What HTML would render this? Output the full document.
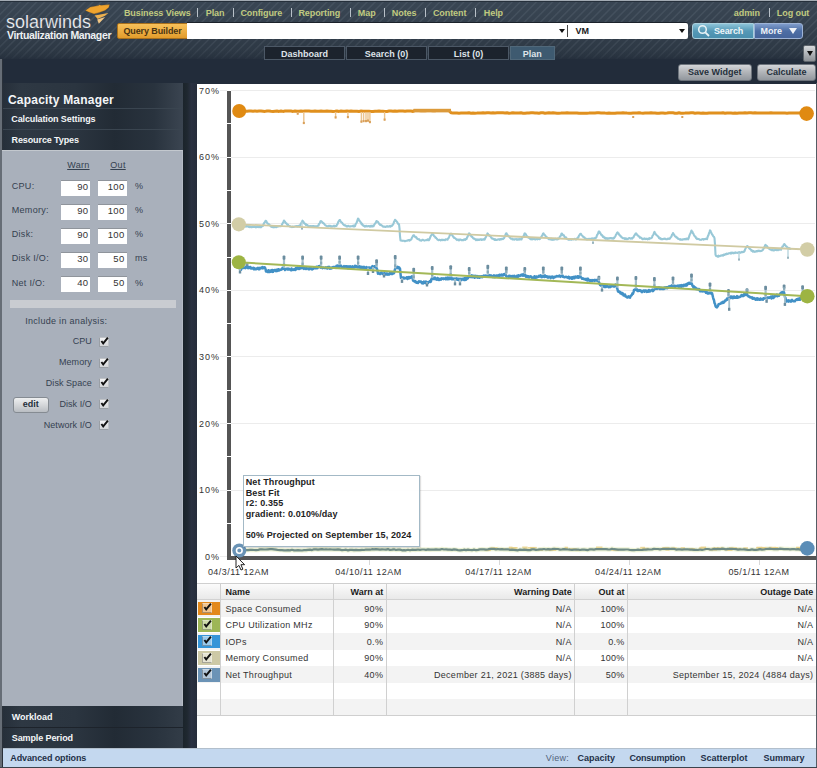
<!DOCTYPE html><html><head><meta charset="utf-8"><style>
*{margin:0;padding:0;box-sizing:border-box}
html,body{width:817px;height:768px;overflow:hidden;background:#222c3a;font-family:"Liberation Sans", sans-serif}
.a{position:absolute}
.t{position:absolute;white-space:nowrap;line-height:1}
.b{font-weight:bold}
.nav{color:#c0ca80;font-size:9px;font-weight:bold;letter-spacing:-0.08px;top:8.7px;margin-left:-0.6px}
.sep{position:absolute;top:8px;width:1px;height:9px;background:#b8c0c8}
.tab{position:absolute;top:46px;height:14px;background:#1c232d;border:1px solid #4c5866;color:#dfe4ea;font-size:9px;font-weight:bold;text-align:center;line-height:14px}
.btn{position:absolute;border-radius:3px;background:linear-gradient(#d3d5d8,#b3b6ba 45%,#92979d);border:1px solid #6d747c;color:#25303c;font-size:9px;font-weight:bold;text-align:center}
.sh{position:absolute;left:3px;width:180px;background:linear-gradient(90deg,#262f3a 0%,#2e3843 10%,#2b3540 40%,#222b35 62%,#29333e 84%,#3b4551 100%);color:#f2f4f6;font-weight:bold;font-size:9px}
.lbl{position:absolute;color:#354150;font-size:9px;letter-spacing:0.3px;white-space:nowrap;line-height:1}
.lbl2{position:absolute;color:#354150;font-size:9px;letter-spacing:0.05px;white-space:nowrap;line-height:1}
.inp{position:absolute;width:29px;height:16px;background:#fff;border-top:1px solid #8f949b;color:#333;font-size:9.5px;text-align:right;padding-right:2px;line-height:12px;letter-spacing:0.3px}
.cb{position:absolute;width:10px;height:10px;background:linear-gradient(#f4f4f5,#d3d5d8);border:1px solid #9a9fa5;border-top-color:#c0c3c7;border-right-color:#c0c3c7}
.ck{position:absolute;left:1px;top:-3px;font-size:11px;font-weight:bold;color:#111;line-height:1}
.cell{position:absolute;font-size:9px;color:#333;letter-spacing:0.3px;white-space:nowrap;line-height:1}
.hcell{position:absolute;font-size:9px;color:#1a1a1a;font-weight:bold;white-space:nowrap;line-height:1}
</style></head><body><div class="a" style="left:0;top:0;width:817px;height:59px;background:repeating-linear-gradient(135deg,#35414e 0px,#35414e 3.3px,#44505d 4.3px,#44505d 4.7px,#35414e 5.7px)"></div>
<div class="a" style="left:0;top:0;width:817px;height:59px;background:linear-gradient(rgba(70,85,100,0.25) 0%,rgba(0,0,0,0) 40%,rgba(20,28,38,0.3) 100%)"></div>
<div class="a" style="left:0;top:50px;width:817px;height:12px;background:linear-gradient(rgba(34,44,58,0) 0%,rgba(34,44,58,0.35) 55%,rgba(34,44,58,0.9) 85%,#222c3a 100%)"></div>
<div class="a" style="left:0;top:0;width:817px;height:1px;background:#a3abb3"></div><div class="a" style="left:0;top:1px;width:817px;height:1px;background:#26303b"></div>
<svg class="a" style="left:84px;top:3px" width="28" height="22" viewBox="84 3 28 22">
<path d="M85.3,10.4 L90.3,7.1 L98.3,5.6 L99.5,4.8 L101,5.3 L109.6,4.6 L108.8,7.5 L105,10.5 L99.5,12.4 L94,13.9 L88.5,12 Z" fill="#f0a42e" stroke="#5a4020" stroke-width="0.3"/>
<path d="M94.6,15.6 L108.4,12.9 L105,15.7 L97.7,19 Z" fill="#edb04f"/>
<path d="M97.2,19.4 L105.2,17 L98.8,23.8 Z" fill="#f1c685"/>
</svg>
<div class="t" style="left:6px;top:13px;font-size:18px;color:#f2f4f6;letter-spacing:0px;-webkit-text-stroke:0.2px #3a4552">solarwinds</div>
<div class="t b" style="left:7px;top:30px;font-size:10.5px;color:#eef1f3;letter-spacing:-0.35px">Virtualization Manager</div>
<div class="t nav" style="left:124.5px">Business Views</div>
<div class="t nav" style="left:206.3px">Plan</div>
<div class="t nav" style="left:241px">Configure</div>
<div class="t nav" style="left:299px">Reporting</div>
<div class="t nav" style="left:358.4px">Map</div>
<div class="t nav" style="left:392.4px">Notes</div>
<div class="t nav" style="left:433.5px">Content</div>
<div class="t nav" style="left:484.4px">Help</div>
<div class="t nav" style="left:734.4px">admin</div>
<div class="t nav" style="left:777.4px">Log out</div>
<div class="sep" style="left:197px"></div>
<div class="sep" style="left:232.5px"></div>
<div class="sep" style="left:290.5px"></div>
<div class="sep" style="left:349.8px"></div>
<div class="sep" style="left:383.5px"></div>
<div class="sep" style="left:424.7px"></div>
<div class="sep" style="left:475.3px"></div>
<div class="sep" style="left:768.5px"></div>
<div class="a" style="left:117px;top:23px;width:71px;height:16px;background:linear-gradient(#f7c15a,#e29c2c);border:1px solid #a8701c;border-radius:2px 0 0 2px"></div>
<div class="t b" style="left:123.4px;top:26.5px;font-size:9px;color:#4a3412;letter-spacing:-0.1px">Query Builder</div>
<div class="a" style="left:187px;top:23px;width:501px;height:16px;background:#fff;border-radius:0 2px 2px 0;box-shadow:0 -1px 0 #1b222b"></div>
<div class="a" style="left:567px;top:25px;width:1px;height:12px;background:#444"></div>
<svg class="a" style="left:558.5px;top:28.5px" width="6" height="4"><polygon points="0,0 6,0 3,4" fill="#111"/></svg>
<svg class="a" style="left:678.5px;top:28.5px" width="6" height="4"><polygon points="0,0 6,0 3,4" fill="#111"/></svg>
<div class="t b" style="left:575.4px;top:26.5px;font-size:9px;color:#1a1a1a">VM</div>
<div class="a" style="left:692px;top:22.5px;width:62px;height:16.5px;background:linear-gradient(#8cc3d8,#5599b6 50%,#4a8fae);border:1px solid #a9cfdd;border-radius:3px 0 0 3px"></div>
<div class="a" style="left:753.5px;top:22.5px;width:49px;height:16.5px;background:linear-gradient(#7f9ccb,#4d6ea5 50%,#46659b);border:1px solid #9db3d6;border-radius:0 3px 3px 0"></div>
<svg class="a" style="left:697px;top:24px" width="14" height="14"><circle cx="5.5" cy="5.5" r="3.8" fill="none" stroke="#e6f2f6" stroke-width="1.6"/><line x1="8.3" y1="8.3" x2="12" y2="12" stroke="#e6f2f6" stroke-width="1.8"/></svg>
<div class="t b" style="left:714px;top:26.5px;font-size:9px;color:#eef6f9;letter-spacing:-0.15px">Search</div>
<div class="t b" style="left:760.6px;top:26.5px;font-size:9px;color:#eef2f8">More</div>
<svg class="a" style="left:789px;top:28px" width="8" height="6"><polygon points="0,0 8,0 4,6" fill="#eef2f8"/></svg>
<div class="tab" style="left:264px;width:81px">Dashboard</div>
<div class="tab" style="left:346px;width:81px">Search (0)</div>
<div class="tab" style="left:428px;width:81px">List (0)</div>
<div class="tab" style="left:510px;width:44.5px;background:#3e5a70;border-color:#50687a">Plan</div>
<div class="a" style="left:803px;top:45px;width:13px;height:16.5px;background:linear-gradient(#d6d9dc,#8c9196);border:1px solid #5d646b;border-radius:2px"></div>
<svg class="a" style="left:806.5px;top:51px" width="6" height="5"><polygon points="0,0 6,0 3,5" fill="#111"/></svg>
<div class="btn" style="left:678px;top:64px;width:73.5px;height:16.5px;line-height:14px">Save Widget</div>
<div class="btn" style="left:757px;top:64px;width:59px;height:16.5px;line-height:14px">Calculate</div>
<div class="a" style="left:0;top:59px;width:2px;height:709px;background:#666d76"></div><div class="a" style="left:2px;top:59px;width:1px;height:709px;background:#2a313a"></div>
<div class="a" style="left:183px;top:83px;width:14px;height:665px;background:linear-gradient(90deg,#1b242b 0%,#1f2830 30%,#2a3141 60%,#262d3b 100%)"></div>
<div class="sh" style="top:83px;height:25px"></div>
<div class="t b" style="left:8px;top:94px;font-size:12px;color:#f4f6f8;letter-spacing:0.2px">Capacity Manager</div>
<div class="sh" style="top:108px;height:21px;border-top:1px solid #3a4550"></div>
<div class="t b" style="left:11.3px;top:115px;font-size:9px;color:#f4f6f8;letter-spacing:-0.12px">Calculation Settings</div>
<div class="sh" style="top:129px;height:21px;border-top:1px solid #3a4550"></div>
<div class="t b" style="left:11.6px;top:136.2px;font-size:9px;color:#f4f6f8;letter-spacing:-0.12px">Resource Types</div>
<div class="a" style="left:2px;top:150px;width:181px;height:556px;background:#a9b0bb;border-top:1px solid #c3c8ce;border-right:1px solid #b6bcc5"></div>
<div class="lbl" style="left:67.2px;top:160.5px;text-decoration:underline">Warn</div>
<div class="lbl" style="left:110.3px;top:160.5px;text-decoration:underline">Out</div>
<div class="lbl" style="left:11.75px;top:181.7px">CPU:</div>
<div class="inp" style="left:61.3px;top:179.5px">90</div>
<div class="inp" style="left:97.5px;top:179.5px">100</div>
<div class="lbl" style="left:135px;top:181.7px">%</div>
<div class="lbl" style="left:11.75px;top:205.9px">Memory:</div>
<div class="inp" style="left:61.3px;top:203.7px">90</div>
<div class="inp" style="left:97.5px;top:203.7px">100</div>
<div class="lbl" style="left:135px;top:205.9px">%</div>
<div class="lbl" style="left:11.75px;top:230.1px">Disk:</div>
<div class="inp" style="left:61.3px;top:227.9px">90</div>
<div class="inp" style="left:97.5px;top:227.9px">100</div>
<div class="lbl" style="left:135px;top:230.1px">%</div>
<div class="lbl" style="left:11.75px;top:254.3px">Disk I/O:</div>
<div class="inp" style="left:61.3px;top:252.1px">30</div>
<div class="inp" style="left:97.5px;top:252.1px">50</div>
<div class="lbl" style="left:135px;top:254.3px">ms</div>
<div class="lbl" style="left:11.75px;top:278.5px">Net I/O:</div>
<div class="inp" style="left:61.3px;top:276.3px">40</div>
<div class="inp" style="left:97.5px;top:276.3px">50</div>
<div class="lbl" style="left:135px;top:278.5px">%</div>
<div class="a" style="left:10px;top:300px;width:166px;height:7.5px;background:#c9ccd1"></div>
<div class="lbl" style="left:25.2px;top:317px">Include in analysis:</div>
<div class="lbl2" style="right:725.2px;top:336.9px">CPU</div>
<div class="cb" style="left:99px;top:336.6px"></div>
<svg class="a" style="left:99px;top:336.6px" width="11" height="11"><path d="M2.4,4 L4.2,6.4 L8.9,0.6" fill="none" stroke="#111" stroke-width="1.9"/></svg>
<div class="lbl2" style="right:725.2px;top:357.79999999999995px">Memory</div>
<div class="cb" style="left:99px;top:357.5px"></div>
<svg class="a" style="left:99px;top:357.5px" width="11" height="11"><path d="M2.4,4 L4.2,6.4 L8.9,0.6" fill="none" stroke="#111" stroke-width="1.9"/></svg>
<div class="lbl2" style="right:725.2px;top:378.7px">Disk Space</div>
<div class="cb" style="left:99px;top:378.4px"></div>
<svg class="a" style="left:99px;top:378.4px" width="11" height="11"><path d="M2.4,4 L4.2,6.4 L8.9,0.6" fill="none" stroke="#111" stroke-width="1.9"/></svg>
<div class="lbl2" style="right:725.2px;top:399.59999999999997px">Disk I/O</div>
<div class="cb" style="left:99px;top:399.3px"></div>
<svg class="a" style="left:99px;top:399.3px" width="11" height="11"><path d="M2.4,4 L4.2,6.4 L8.9,0.6" fill="none" stroke="#111" stroke-width="1.9"/></svg>
<div class="lbl2" style="right:725.2px;top:420.5px">Network I/O</div>
<div class="cb" style="left:99px;top:420.2px"></div>
<svg class="a" style="left:99px;top:420.2px" width="11" height="11"><path d="M2.4,4 L4.2,6.4 L8.9,0.6" fill="none" stroke="#111" stroke-width="1.9"/></svg>
<div class="btn" style="left:13px;top:397px;width:35.5px;height:15.5px;line-height:13px;border-radius:3px;background:linear-gradient(#eeeff0,#d5d7da 50%,#b9bdc2);border-color:#858b92">edit</div>
<div class="sh" style="top:706px;height:21px;background:linear-gradient(90deg,#262f3a 0%,#2e3843 10%,#2b3540 40%,#222b35 62%,#29333e 84%,#323c47 100%)"></div>
<div class="t b" style="left:11.75px;top:712.5px;font-size:9px;color:#f4f6f8">Workload</div>
<div class="sh" style="top:727px;height:21px;border-top:1px solid #1d232b;background:linear-gradient(90deg,#262f3a 0%,#2e3843 10%,#2b3540 40%,#222b35 62%,#29333e 84%,#323c47 100%)"></div>
<div class="t b" style="left:11.75px;top:733.5px;font-size:9px;color:#f4f6f8;letter-spacing:-0.1px">Sample Period</div>
<div class="a" style="left:197px;top:84px;width:619px;height:664px;background:#fff"></div>
<div class="a" style="left:816px;top:83px;width:1px;height:685px;background:#555c64"></div>
<div class="a" style="left:3px;top:748px;width:813px;height:18.5px;background:#c4d8ef;border-top:1px solid #b2bfcc"></div>
<div class="a" style="left:0;top:766.5px;width:817px;height:2px;background:#3c434c"></div>
<div class="t b" style="left:10.3px;top:754.2px;font-size:9px;color:#1f3048;letter-spacing:-0.13px">Advanced options</div>
<div class="t" style="left:545.8px;top:754.2px;font-size:9px;color:#52627a;letter-spacing:0.3px">View:</div>
<div class="t b" style="left:577.4px;top:754.2px;font-size:9px;color:#1f3048;letter-spacing:0px">Capacity</div>
<div class="t b" style="left:629.4px;top:754.2px;font-size:9px;color:#1f3048;letter-spacing:-0.2px">Consumption</div>
<div class="t b" style="left:700.4px;top:754.2px;font-size:9px;color:#1f3048;letter-spacing:0px">Scatterplot</div>
<div class="t b" style="left:763.6px;top:754.2px;font-size:9px;color:#1f3048;letter-spacing:0px">Summary</div>
<div class="a" style="left:197px;top:583px;width:619px;height:17px;background:linear-gradient(#fbfbfb,#e9e9e9);border-top:1px solid #cfcfcf;border-bottom:1px solid #d2d2d2"></div>
<div class="a" style="left:197px;top:600.00px;width:619px;height:16.6px;background:#f3f3f3"></div>
<div class="a" style="left:197px;top:616.55px;width:619px;height:16.6px;background:#ffffff"></div>
<div class="a" style="left:197px;top:633.10px;width:619px;height:16.6px;background:#f3f3f3"></div>
<div class="a" style="left:197px;top:649.65px;width:619px;height:16.6px;background:#ffffff"></div>
<div class="a" style="left:197px;top:666.20px;width:619px;height:16.6px;background:#f3f3f3"></div>
<div class="a" style="left:197px;top:682.75px;width:619px;height:16.6px;background:#ffffff"></div>
<div class="a" style="left:197px;top:699.30px;width:619px;height:16.6px;background:#f3f3f3"></div>
<div class="a" style="left:197px;top:715px;width:619px;height:1px;background:#cfcfcf"></div>
<div class="a" style="left:220px;top:583px;width:1px;height:132px;background:#d0d0d0"></div>
<div class="a" style="left:333px;top:583px;width:1px;height:132px;background:#d0d0d0"></div>
<div class="a" style="left:386px;top:583px;width:1px;height:132px;background:#d0d0d0"></div>
<div class="a" style="left:574px;top:583px;width:1px;height:132px;background:#d0d0d0"></div>
<div class="a" style="left:627px;top:583px;width:1px;height:132px;background:#d0d0d0"></div>
<div class="hcell" style="left:225.5px;top:587.5px">Name</div>
<div class="hcell" style="right:433.8px;top:587.5px">Warn at</div>
<div class="hcell" style="right:245.29999999999995px;top:587.5px">Warning Date</div>
<div class="hcell" style="right:192.39999999999998px;top:587.5px">Out at</div>
<div class="hcell" style="right:3.7000000000000455px;top:587.5px">Outage Date</div>
<div class="a" style="left:197.5px;top:601.80px;width:22.5px;height:13.6px;background:#e3891c"></div>
<div class="a" style="left:201.8px;top:603.20px;width:10px;height:10px;background:rgba(255,255,255,0.5);border:1px solid rgba(0,0,0,0.28);border-top-color:rgba(255,255,255,0.3);border-right-color:rgba(255,255,255,0.3)"></div>
<svg class="a" style="left:201.8px;top:603.20px" width="11" height="11"><path d="M2.4,4 L4.2,6.4 L8.9,0.6" fill="none" stroke="#111" stroke-width="1.9"/></svg>
<div class="cell" style="left:225.5px;top:604.50px">Space Consumed</div>
<div class="cell" style="right:433.8px;top:604.50px">90%</div>
<div class="cell" style="right:245.29999999999995px;top:604.50px">N/A</div>
<div class="cell" style="right:192.39999999999998px;top:604.50px">100%</div>
<div class="cell" style="right:3.7000000000000455px;top:604.50px">N/A</div>
<div class="a" style="left:197.5px;top:618.35px;width:22.5px;height:13.6px;background:#9db656"></div>
<div class="a" style="left:201.8px;top:619.75px;width:10px;height:10px;background:rgba(255,255,255,0.5);border:1px solid rgba(0,0,0,0.28);border-top-color:rgba(255,255,255,0.3);border-right-color:rgba(255,255,255,0.3)"></div>
<svg class="a" style="left:201.8px;top:619.75px" width="11" height="11"><path d="M2.4,4 L4.2,6.4 L8.9,0.6" fill="none" stroke="#111" stroke-width="1.9"/></svg>
<div class="cell" style="left:225.5px;top:621.05px">CPU Utilization MHz</div>
<div class="cell" style="right:433.8px;top:621.05px">90%</div>
<div class="cell" style="right:245.29999999999995px;top:621.05px">N/A</div>
<div class="cell" style="right:192.39999999999998px;top:621.05px">100%</div>
<div class="cell" style="right:3.7000000000000455px;top:621.05px">N/A</div>
<div class="a" style="left:197.5px;top:634.90px;width:22.5px;height:13.6px;background:#3595d8"></div>
<div class="a" style="left:201.8px;top:636.30px;width:10px;height:10px;background:rgba(255,255,255,0.5);border:1px solid rgba(0,0,0,0.28);border-top-color:rgba(255,255,255,0.3);border-right-color:rgba(255,255,255,0.3)"></div>
<svg class="a" style="left:201.8px;top:636.30px" width="11" height="11"><path d="M2.4,4 L4.2,6.4 L8.9,0.6" fill="none" stroke="#111" stroke-width="1.9"/></svg>
<div class="cell" style="left:225.5px;top:637.60px">IOPs</div>
<div class="cell" style="right:433.8px;top:637.60px">0.%</div>
<div class="cell" style="right:245.29999999999995px;top:637.60px">N/A</div>
<div class="cell" style="right:192.39999999999998px;top:637.60px">0.%</div>
<div class="cell" style="right:3.7000000000000455px;top:637.60px">N/A</div>
<div class="a" style="left:197.5px;top:651.45px;width:22.5px;height:13.6px;background:#cdc9a6"></div>
<div class="a" style="left:201.8px;top:652.85px;width:10px;height:10px;background:rgba(255,255,255,0.5);border:1px solid rgba(0,0,0,0.28);border-top-color:rgba(255,255,255,0.3);border-right-color:rgba(255,255,255,0.3)"></div>
<svg class="a" style="left:201.8px;top:652.85px" width="11" height="11"><path d="M2.4,4 L4.2,6.4 L8.9,0.6" fill="none" stroke="#111" stroke-width="1.9"/></svg>
<div class="cell" style="left:225.5px;top:654.15px">Memory Consumed</div>
<div class="cell" style="right:433.8px;top:654.15px">90%</div>
<div class="cell" style="right:245.29999999999995px;top:654.15px">N/A</div>
<div class="cell" style="right:192.39999999999998px;top:654.15px">100%</div>
<div class="cell" style="right:3.7000000000000455px;top:654.15px">N/A</div>
<div class="a" style="left:197.5px;top:668.00px;width:22.5px;height:13.6px;background:#6b93b6"></div>
<div class="a" style="left:201.8px;top:669.40px;width:10px;height:10px;background:rgba(255,255,255,0.5);border:1px solid rgba(0,0,0,0.28);border-top-color:rgba(255,255,255,0.3);border-right-color:rgba(255,255,255,0.3)"></div>
<svg class="a" style="left:201.8px;top:669.40px" width="11" height="11"><path d="M2.4,4 L4.2,6.4 L8.9,0.6" fill="none" stroke="#111" stroke-width="1.9"/></svg>
<div class="cell" style="left:225.5px;top:670.70px">Net Throughput</div>
<div class="cell" style="right:433.8px;top:670.70px">40%</div>
<div class="cell" style="right:245.29999999999995px;top:670.70px">December 21, 2021 (3885 days)</div>
<div class="cell" style="right:192.39999999999998px;top:670.70px">50%</div>
<div class="cell" style="right:3.7000000000000455px;top:670.70px">September 15, 2024 (4884 days)</div>
<svg class="a" style="left:0;top:0" width="817" height="768"><line x1="220" y1="556.5" x2="815" y2="556.5" stroke="#ececec" stroke-width="1"/><line x1="220" y1="490.5" x2="815" y2="490.5" stroke="#ececec" stroke-width="1"/><line x1="220" y1="423.5" x2="815" y2="423.5" stroke="#ececec" stroke-width="1"/><line x1="220" y1="356.5" x2="815" y2="356.5" stroke="#ececec" stroke-width="1"/><line x1="220" y1="290.5" x2="815" y2="290.5" stroke="#ececec" stroke-width="1"/><line x1="220" y1="223.5" x2="815" y2="223.5" stroke="#ececec" stroke-width="1"/><line x1="220" y1="157.5" x2="815" y2="157.5" stroke="#ececec" stroke-width="1"/><line x1="220" y1="90.5" x2="815" y2="90.5" stroke="#ececec" stroke-width="1"/><rect x="227" y="90" width="4" height="470" fill="#555"/><rect x="227" y="523" width="4" height="1" fill="#fff"/><rect x="227" y="490" width="4" height="1" fill="#fff"/><rect x="227" y="456" width="4" height="1" fill="#fff"/><rect x="227" y="423" width="4" height="1" fill="#fff"/><rect x="227" y="390" width="4" height="1" fill="#fff"/><rect x="227" y="356" width="4" height="1" fill="#fff"/><rect x="227" y="323" width="4" height="1" fill="#fff"/><rect x="227" y="290" width="4" height="1" fill="#fff"/><rect x="227" y="257" width="4" height="1" fill="#fff"/><rect x="227" y="223" width="4" height="1" fill="#fff"/><rect x="227" y="190" width="4" height="1" fill="#fff"/><rect x="227" y="157" width="4" height="1" fill="#fff"/><rect x="227" y="123" width="4" height="1" fill="#fff"/><rect x="227" y="90" width="4" height="1" fill="#fff"/><rect x="227" y="556" width="589" height="4" fill="#555"/><line x1="239.5" y1="560" x2="239.5" y2="565" stroke="#d8d8d8" stroke-width="1"/><line x1="369.5" y1="560" x2="369.5" y2="565" stroke="#d8d8d8" stroke-width="1"/><line x1="499.5" y1="560" x2="499.5" y2="565" stroke="#d8d8d8" stroke-width="1"/><line x1="629.5" y1="560" x2="629.5" y2="565" stroke="#d8d8d8" stroke-width="1"/><line x1="759.5" y1="560" x2="759.5" y2="565" stroke="#d8d8d8" stroke-width="1"/><polyline points="239.0,111.1 241.0,111.0 243.0,111.3 245.0,111.0 247.0,111.2 249.0,111.1 251.0,111.0 253.0,111.2 255.0,111.0 257.0,111.2 259.0,111.0 261.0,111.0 263.0,111.2 265.0,111.4 267.0,111.0 269.0,111.1 271.0,111.3 273.0,111.4 275.0,111.2 277.0,111.1 279.0,111.4 281.0,111.0 283.0,111.4 285.0,111.1 287.0,111.0 289.0,111.0 291.0,111.1 293.0,111.4 295.0,111.0 297.0,111.2 299.0,111.3 301.0,111.1 303.0,111.2 305.0,111.0 307.0,111.0 309.0,111.1 311.0,111.3 313.0,111.2 315.0,111.1 317.0,111.2 319.0,111.2 321.0,111.1 323.0,111.3 325.0,111.3 327.0,111.1 329.0,111.2 331.0,111.2 333.0,111.4 335.0,111.3 337.0,111.1 339.0,111.4 341.0,111.0 343.0,111.2 345.0,111.3 347.0,111.0 349.0,111.2 351.0,111.0 353.0,111.3 355.0,111.3 357.0,111.2 359.0,111.4 361.0,111.1 363.0,111.3 365.0,111.2 367.0,111.2 369.0,111.2 371.0,111.4 373.0,111.4 375.0,111.2 377.0,111.3 379.0,111.0 381.0,111.3 383.0,111.3 385.0,111.4 387.0,111.4 389.0,111.1 391.0,111.1 393.0,111.3 395.0,111.0 397.0,111.2 399.0,111.0 401.0,111.0 403.0,111.0 405.0,111.3 407.0,111.0 409.0,111.1 411.0,111.1 413.0,111.4 415.0,110.4 417.0,110.6 419.0,110.6 421.0,110.8 423.0,110.8 425.0,110.8 427.0,110.5 429.0,110.6 431.0,110.5 433.0,110.8 435.0,110.8 437.0,110.4 439.0,110.4 441.0,110.5 443.0,110.5 445.0,110.6 447.0,110.6 449.0,110.5 451.0,112.8 453.0,113.0 455.0,112.9 457.0,113.0 459.0,113.2 461.0,113.1 463.0,113.0 465.0,113.1 467.0,113.1 469.0,112.8 471.0,113.2 473.0,113.1 475.0,113.2 477.0,113.1 479.0,112.9 481.0,112.9 483.0,112.8 485.0,113.1 487.0,112.8 489.0,112.8 491.0,112.9 493.0,112.8 495.0,112.9 497.0,112.8 499.0,112.8 501.0,112.8 503.0,112.8 505.0,112.9 507.0,112.8 509.0,113.2 511.0,113.1 513.0,112.8 515.0,112.9 517.0,112.9 519.0,112.9 521.0,112.8 523.0,113.2 525.0,113.2 527.0,113.0 529.0,113.0 531.0,112.8 533.0,112.8 535.0,112.9 537.0,112.9 539.0,113.2 541.0,112.8 543.0,112.8 545.0,113.2 547.0,113.0 549.0,112.8 551.0,113.0 553.0,112.8 555.0,113.0 557.0,113.2 559.0,113.2 561.0,113.1 563.0,112.9 565.0,112.9 567.0,112.8 569.0,113.1 571.0,113.0 573.0,113.1 575.0,112.9 577.0,112.9 579.0,113.2 581.0,113.2 583.0,113.2 585.0,113.2 587.0,113.2 589.0,113.1 591.0,112.9 593.0,113.0 595.0,112.9 597.0,112.8 599.0,112.8 601.0,112.9 603.0,112.9 605.0,113.1 607.0,113.2 609.0,113.0 611.0,113.2 613.0,113.2 615.0,113.2 617.0,112.9 619.0,112.9 621.0,112.9 623.0,112.8 625.0,112.9 627.0,113.1 629.0,113.2 631.0,113.2 633.0,113.0 635.0,113.1 637.0,113.1 639.0,112.8 641.0,113.1 643.0,113.2 645.0,113.1 647.0,113.1 649.0,113.0 651.0,112.8 653.0,113.1 655.0,112.9 657.0,113.2 659.0,113.2 661.0,112.9 663.0,113.0 665.0,113.2 667.0,113.1 669.0,112.8 671.0,112.8 673.0,112.8 675.0,113.2 677.0,113.2 679.0,112.8 681.0,113.2 683.0,113.2 685.0,113.1 687.0,112.9 689.0,113.0 691.0,112.8 693.0,112.8 695.0,113.2 697.0,113.1 699.0,113.0 701.0,113.2 703.0,113.0 705.0,113.2 707.0,113.2 709.0,112.9 711.0,112.9 713.0,112.9 715.0,112.9 717.0,113.0 719.0,112.9 721.0,113.0 723.0,112.8 725.0,113.2 727.0,112.9 729.0,113.0 731.0,113.0 733.0,113.2 735.0,113.0 737.0,113.2 739.0,113.0 741.0,113.0 743.0,113.0 745.0,112.8 747.0,113.0 749.0,112.8 751.0,112.8 753.0,113.1 755.0,112.8 757.0,113.0 759.0,113.1 761.0,113.0 763.0,112.9 765.0,113.0 767.0,113.0 769.0,113.1 771.0,112.8 773.0,113.0 775.0,112.9 777.0,112.9 779.0,113.1 781.0,113.0 783.0,113.0 785.0,113.1 787.0,113.2 789.0,113.0 791.0,113.1 793.0,113.0 795.0,113.0 797.0,113.1 799.0,113.0 801.0,113.0 803.0,113.0 805.0,113.2 807.0,113.1" fill="none" stroke="#e0901e" stroke-width="3.0" stroke-linejoin="round" stroke-linecap="round" opacity="1"/><rect x="413.5" y="108.8" width="37.5" height="3.6" fill="#dc9a3a"/><line x1="297.7" y1="112" x2="297.7" y2="114.5" stroke="#ebc48e" stroke-width="1.4"/><rect x="296.7" y="112.5" width="2" height="2.2" fill="#d9a05a"/><line x1="303.8" y1="112" x2="303.8" y2="123.9" stroke="#ebc48e" stroke-width="1.4"/><rect x="302.8" y="121.9" width="2" height="2.2" fill="#d9a05a"/><line x1="335.6" y1="112" x2="335.6" y2="118.3" stroke="#ebc48e" stroke-width="1.4"/><rect x="334.6" y="116.3" width="2" height="2.2" fill="#d9a05a"/><line x1="347.9" y1="112" x2="347.9" y2="118" stroke="#ebc48e" stroke-width="1.4"/><rect x="346.9" y="116" width="2" height="2.2" fill="#d9a05a"/><line x1="361.4" y1="112" x2="361.4" y2="122.5" stroke="#ebc48e" stroke-width="1.4"/><rect x="360.4" y="120.5" width="2" height="2.2" fill="#d9a05a"/><line x1="363.6" y1="112" x2="363.6" y2="122" stroke="#ebc48e" stroke-width="1.4"/><rect x="362.6" y="120" width="2" height="2.2" fill="#d9a05a"/><line x1="366" y1="112" x2="366" y2="122" stroke="#ebc48e" stroke-width="1.4"/><rect x="365" y="120" width="2" height="2.2" fill="#d9a05a"/><line x1="368" y1="112" x2="368" y2="121.5" stroke="#ebc48e" stroke-width="1.4"/><rect x="367" y="119.5" width="2" height="2.2" fill="#d9a05a"/><line x1="369.9" y1="112" x2="369.9" y2="123" stroke="#ebc48e" stroke-width="1.4"/><rect x="368.9" y="121" width="2" height="2.2" fill="#d9a05a"/><line x1="384.6" y1="112" x2="384.6" y2="120.5" stroke="#ebc48e" stroke-width="1.4"/><rect x="383.6" y="118.5" width="2" height="2.2" fill="#d9a05a"/><rect x="632.2" y="116" width="2" height="2" fill="#d9a05a"/><rect x="681.3" y="116" width="2" height="2" fill="#d9a05a"/><circle cx="239.2" cy="111" r="7" fill="#e08a12"/><circle cx="806.6" cy="113.6" r="7.3" fill="#e08a12"/><polyline points="239.0,226.9 239.5,226.9 240.0,226.2 240.5,226.5 241.0,226.9 241.5,226.7 242.0,226.0 242.5,226.0 243.0,226.3 243.5,225.9 244.0,226.1 244.5,225.9 245.0,226.4 245.5,226.5 246.0,226.6 246.5,225.9 247.0,226.4 247.5,226.4 248.0,226.0 248.5,226.8 249.0,227.0 249.5,226.3 250.0,227.1 250.5,226.6 251.0,226.8 251.5,227.3 252.0,227.2 252.5,226.6 253.0,226.9 253.5,227.0 254.0,226.9 254.5,226.8 255.0,226.9 255.5,227.3 256.0,226.6 256.5,227.2 257.0,227.0 257.5,226.6 258.0,226.9 258.5,227.1 259.0,227.0 259.5,226.5 260.0,227.3 260.5,227.1 261.0,227.2 261.5,226.3 262.0,226.4 262.5,226.1 263.0,225.8 263.5,224.3 264.0,223.2 264.5,222.5 265.0,222.0 265.5,220.9 266.0,220.9 266.5,221.5 267.0,222.9 267.5,223.1 268.0,223.8 268.5,223.8 269.0,224.2 269.5,225.3 270.0,225.5 270.5,225.5 271.0,226.7 271.5,226.7 272.0,227.0 272.5,226.4 273.0,227.2 273.5,226.5 274.0,227.3 274.5,226.9 275.0,226.7 275.5,226.9 276.0,227.3 276.5,226.6 277.0,226.4 277.5,226.8 278.0,226.5 278.5,226.3 279.0,226.3 279.5,226.1 280.0,226.2 280.5,226.2 281.0,226.1 281.5,225.8 282.0,224.4 282.5,223.7 283.0,222.5 283.5,221.7 284.0,220.5 284.5,221.2 285.0,221.6 285.5,222.9 286.0,223.3 286.5,223.4 287.0,224.2 287.5,225.1 288.0,224.7 288.5,225.8 289.0,225.7 289.5,226.1 290.0,226.7 290.5,226.4 291.0,226.7 291.5,226.9 292.0,227.2 292.5,226.5 293.0,227.0 293.5,226.9 294.0,226.8 294.5,226.6 295.0,226.5 295.5,226.2 296.0,226.2 296.5,226.1 297.0,226.7 297.5,226.2 298.0,226.0 298.5,225.9 299.0,226.5 299.5,226.5 300.0,225.5 300.5,224.3 301.0,223.4 301.5,222.5 302.0,221.8 302.5,220.7 303.0,221.4 303.5,221.8 304.0,223.0 304.5,223.6 305.0,223.7 305.5,223.8 306.0,225.0 306.5,224.7 307.0,225.2 307.5,225.1 308.0,225.8 308.5,226.1 309.0,226.3 309.5,226.1 310.0,226.5 310.5,226.0 311.0,226.3 311.5,226.1 312.0,226.4 312.5,226.0 313.0,226.0 313.5,226.2 314.0,226.1 314.5,226.5 315.0,226.3 315.5,226.5 316.0,226.4 316.5,226.4 317.0,226.5 317.5,225.9 318.0,225.8 318.5,225.7 319.0,223.9 319.5,223.6 320.0,222.7 320.5,221.2 321.0,221.1 321.5,221.5 322.0,221.8 322.5,222.5 323.0,223.1 323.5,223.0 324.0,223.8 324.5,224.3 325.0,225.0 325.5,225.4 326.0,225.7 326.5,225.8 327.0,226.3 327.5,226.3 328.0,226.4 328.5,226.0 329.0,225.8 329.5,225.9 330.0,226.2 330.5,225.9 331.0,226.6 331.5,226.3 332.0,226.4 332.5,226.4 333.0,226.4 333.5,226.2 334.0,225.6 334.5,226.4 335.0,226.3 335.5,226.0 336.0,225.9 336.5,226.0 337.0,224.6 337.5,224.2 338.0,222.7 338.5,221.5 339.0,220.7 339.5,220.1 340.0,220.0 340.5,221.2 341.0,222.1 341.5,222.3 342.0,222.7 342.5,223.4 343.0,224.1 343.5,224.7 344.0,225.0 344.5,225.4 345.0,225.2 345.5,225.5 346.0,225.9 346.5,226.5 347.0,226.1 347.5,226.4 348.0,225.9 348.5,225.9 349.0,226.1 349.5,226.5 350.0,226.5 350.5,226.5 351.0,226.1 351.5,226.3 352.0,226.2 352.5,226.1 353.0,225.7 353.5,226.5 354.0,225.7 354.5,226.4 355.0,226.3 355.5,224.4 356.0,223.7 356.5,222.8 357.0,221.7 357.5,220.0 358.0,218.6 358.5,218.9 359.0,220.4 359.5,220.5 360.0,221.6 360.5,221.9 361.0,222.9 361.5,224.0 362.0,223.7 362.5,225.0 363.0,225.1 363.5,225.9 364.0,226.1 364.5,225.9 365.0,226.7 365.5,226.3 366.0,225.9 366.5,225.9 367.0,226.4 367.5,226.4 368.0,226.2 368.5,226.0 369.0,226.2 369.5,226.2 370.0,226.7 370.5,225.8 371.0,226.5 371.5,226.5 372.0,225.7 372.5,226.5 373.0,226.2 373.5,226.3 374.0,225.1 374.5,224.4 375.0,223.5 375.5,223.3 376.0,222.1 376.5,221.0 377.0,221.3 377.5,221.7 378.0,222.0 378.5,222.6 379.0,223.8 379.5,223.7 380.0,224.8 380.5,224.5 381.0,224.9 381.5,225.5 382.0,225.5 382.5,225.9 383.0,226.7 383.5,226.7 384.0,226.7 384.5,226.6 385.0,226.9 385.5,226.9 386.0,226.5 386.5,226.7 387.0,226.0 387.5,226.7 388.0,226.4 388.5,226.6 389.0,226.5 389.5,226.1 390.0,225.8 390.5,226.6 391.0,225.8 391.5,226.0 392.0,225.8 392.5,225.1 393.0,224.5 393.5,223.7 394.0,221.9 394.5,221.2 395.0,219.8 395.5,220.3 396.0,220.8 396.5,221.3 397.0,221.9 397.5,222.6 398.0,223.8 398.5,224.0 399.0,224.2 399.5,228.3 400.0,236.2 400.5,240.5 401.0,240.4 401.5,240.7 402.0,240.7 402.5,240.9 403.0,240.7 403.5,240.8 404.0,240.8 404.5,241.0 405.0,241.3 405.5,241.1 406.0,240.7 406.5,240.7 407.0,240.7 407.5,240.5 408.0,240.4 408.5,240.0 409.0,240.1 409.5,240.7 410.0,239.8 410.5,240.0 411.0,239.6 411.5,239.0 412.0,237.5 412.5,236.7 413.0,235.8 413.5,235.2 414.0,235.3 414.5,236.4 415.0,236.8 415.5,237.3 416.0,236.9 416.5,237.4 417.0,238.5 417.5,239.0 418.0,239.0 418.5,239.4 419.0,239.1 419.5,239.7 420.0,240.4 420.5,240.5 421.0,240.5 421.5,240.7 422.0,240.0 422.5,239.8 423.0,239.9 423.5,240.2 424.0,240.4 424.5,240.6 425.0,240.4 425.5,240.2 426.0,240.3 426.5,240.0 427.0,240.0 427.5,239.4 428.0,240.1 428.5,239.5 429.0,240.1 429.5,239.2 430.0,237.8 430.5,236.6 431.0,235.7 431.5,235.0 432.0,234.0 432.5,233.4 433.0,234.1 433.5,235.2 434.0,235.9 434.5,236.4 435.0,236.8 435.5,237.7 436.0,237.6 436.5,238.3 437.0,238.9 437.5,239.7 438.0,239.7 438.5,240.2 439.0,239.9 439.5,239.8 440.0,239.8 440.5,240.5 441.0,240.3 441.5,239.9 442.0,239.6 442.5,240.0 443.0,240.2 443.5,239.9 444.0,239.7 444.5,240.1 445.0,240.3 445.5,239.5 446.0,239.3 446.5,239.5 447.0,239.5 447.5,239.7 448.0,238.6 448.5,238.2 449.0,237.1 449.5,235.9 450.0,234.6 450.5,234.3 451.0,233.6 451.5,234.8 452.0,234.9 452.5,235.5 453.0,236.6 453.5,236.7 454.0,237.9 454.5,237.9 455.0,238.1 455.5,238.5 456.0,239.0 456.5,239.6 457.0,240.1 457.5,239.5 458.0,239.8 458.5,239.6 459.0,240.4 459.5,239.5 460.0,239.5 460.5,239.5 461.0,239.8 461.5,240.3 462.0,240.2 462.5,240.0 463.0,240.2 463.5,240.1 464.0,239.5 464.5,239.3 465.0,240.0 465.5,239.7 466.0,238.9 466.5,239.0 467.0,237.7 467.5,236.7 468.0,235.7 468.5,234.5 469.0,233.4 469.5,233.5 470.0,234.3 470.5,235.5 471.0,235.3 471.5,236.7 472.0,236.5 472.5,237.2 473.0,238.1 473.5,238.6 474.0,238.6 474.5,238.5 475.0,239.2 475.5,239.4 476.0,240.1 476.5,239.4 477.0,239.6 477.5,240.1 478.0,239.3 478.5,239.7 479.0,240.0 479.5,240.0 480.0,239.2 480.5,239.2 481.0,239.2 481.5,240.0 482.0,239.3 482.5,239.7 483.0,239.8 483.5,239.2 484.0,239.1 484.5,239.7 485.0,238.8 485.5,237.5 486.0,237.0 486.5,235.6 487.0,234.6 487.5,233.4 488.0,234.0 488.5,234.8 489.0,235.1 489.5,236.0 490.0,235.7 490.5,236.4 491.0,237.2 491.5,238.1 492.0,238.6 492.5,238.4 493.0,238.6 493.5,239.0 494.0,239.3 494.5,239.9 495.0,239.2 495.5,239.9 496.0,239.8 496.5,239.9 497.0,239.9 497.5,239.7 498.0,239.4 498.5,239.4 499.0,239.4 499.5,239.8 500.0,239.0 500.5,239.1 501.0,239.6 501.5,239.0 502.0,238.8 502.5,238.7 503.0,239.1 503.5,238.4 504.0,238.2 504.5,237.1 505.0,236.3 505.5,234.6 506.0,233.5 506.5,233.3 507.0,234.3 507.5,235.2 508.0,235.5 508.5,235.8 509.0,236.5 509.5,237.2 510.0,237.7 510.5,238.2 511.0,238.7 511.5,238.8 512.0,238.6 512.5,239.5 513.0,239.1 513.5,239.4 514.0,239.3 514.5,239.7 515.0,239.1 515.5,239.2 516.0,239.2 516.5,239.1 517.0,239.8 517.5,239.4 518.0,239.1 518.5,239.2 519.0,239.7 519.5,239.2 520.0,238.8 520.5,239.4 521.0,239.1 521.5,239.4 522.0,238.1 522.5,237.6 523.0,237.0 523.5,236.1 524.0,235.3 524.5,233.5 525.0,233.4 525.5,233.9 526.0,234.6 526.5,235.9 527.0,236.1 527.5,236.9 528.0,236.8 528.5,237.8 529.0,237.8 529.5,237.9 530.0,238.8 530.5,239.2 531.0,238.6 531.5,239.3 532.0,239.4 532.5,239.0 533.0,239.2 533.5,238.9 534.0,239.0 534.5,239.1 535.0,239.4 535.5,239.4 536.0,239.0 536.5,238.7 537.0,239.0 537.5,239.3 538.0,238.8 538.5,238.9 539.0,238.7 539.5,239.2 540.0,238.9 540.5,238.0 541.0,237.2 541.5,236.6 542.0,235.8 542.5,235.0 543.0,233.6 543.5,233.3 544.0,234.5 544.5,234.8 545.0,235.2 545.5,235.8 546.0,237.0 546.5,236.8 547.0,237.5 547.5,237.7 548.0,238.1 548.5,238.9 549.0,239.3 549.5,238.9 550.0,238.9 550.5,239.5 551.0,239.0 551.5,238.9 552.0,239.8 552.5,239.3 553.0,239.7 553.5,239.3 554.0,239.7 554.5,239.3 555.0,239.0 555.5,238.8 556.0,239.3 556.5,239.3 557.0,239.5 557.5,238.6 558.0,239.1 558.5,238.8 559.0,238.6 559.5,237.3 560.0,236.5 560.5,235.9 561.0,235.4 561.5,233.6 562.0,233.6 562.5,234.5 563.0,235.3 563.5,235.1 564.0,235.6 564.5,236.9 565.0,237.5 565.5,237.4 566.0,237.4 566.5,238.7 567.0,238.5 567.5,239.3 568.0,239.2 568.5,239.6 569.0,239.0 569.5,239.7 570.0,239.1 570.5,239.3 571.0,239.8 571.5,239.8 572.0,239.1 572.5,239.1 573.0,239.3 573.5,239.4 574.0,239.2 574.5,238.9 575.0,239.0 575.5,239.4 576.0,239.5 576.5,238.5 577.0,239.0 577.5,238.9 578.0,237.2 578.5,237.1 579.0,235.5 579.5,235.1 580.0,234.1 580.5,233.7 581.0,234.0 581.5,234.8 582.0,235.5 582.5,235.9 583.0,236.7 583.5,237.0 584.0,237.4 584.5,237.4 585.0,238.4 585.5,238.6 586.0,238.6 586.5,239.3 587.0,239.5 587.5,239.2 588.0,238.9 588.5,239.2 589.0,238.8 589.5,238.8 590.0,239.1 590.5,238.7 591.0,239.0 591.5,239.0 592.0,238.4 592.5,238.9 593.0,238.3 593.5,238.9 594.0,238.8 594.5,238.4 595.0,237.9 595.5,238.2 596.0,237.7 596.5,237.1 597.0,235.0 597.5,234.6 598.0,233.5 598.5,232.0 599.0,231.4 599.5,231.6 600.0,233.1 600.5,233.3 601.0,234.5 601.5,235.1 602.0,235.0 602.5,236.2 603.0,236.9 603.5,236.5 604.0,237.2 604.5,238.0 605.0,237.7 605.5,238.7 606.0,238.2 606.5,238.7 607.0,238.1 607.5,238.5 608.0,238.9 608.5,238.2 609.0,238.3 609.5,238.5 610.0,238.3 610.5,238.0 611.0,238.1 611.5,238.0 612.0,238.7 612.5,238.4 613.0,238.6 613.5,237.8 614.0,238.3 614.5,237.4 615.0,236.8 615.5,235.9 616.0,234.7 616.5,234.2 617.0,232.9 617.5,232.3 618.0,233.3 618.5,233.2 619.0,234.7 619.5,235.0 620.0,235.3 620.5,236.3 621.0,236.2 621.5,237.4 622.0,237.4 622.5,237.6 623.0,238.3 623.5,238.2 624.0,238.2 624.5,238.8 625.0,238.2 625.5,239.0 626.0,238.4 626.5,238.8 627.0,239.2 627.5,238.8 628.0,238.9 628.5,238.5 629.0,238.1 629.5,238.1 630.0,238.2 630.5,238.6 631.0,238.4 631.5,238.4 632.0,238.7 632.5,237.9 633.0,237.8 633.5,237.4 634.0,236.0 634.5,235.2 635.0,234.7 635.5,233.7 636.0,233.4 636.5,233.8 637.0,234.7 637.5,235.2 638.0,235.4 638.5,236.3 639.0,236.6 639.5,236.6 640.0,237.8 640.5,237.5 641.0,237.7 641.5,237.9 642.0,238.7 642.5,239.1 643.0,239.1 643.5,238.7 644.0,238.6 644.5,238.4 645.0,239.1 645.5,239.0 646.0,238.8 646.5,239.0 647.0,238.8 647.5,239.3 648.0,239.0 648.5,238.5 649.0,239.1 649.5,238.2 650.0,238.6 650.5,238.4 651.0,238.2 651.5,237.8 652.0,237.5 652.5,235.7 653.0,235.2 653.5,234.5 654.0,232.7 654.5,231.9 655.0,233.0 655.5,233.7 656.0,234.5 656.5,235.3 657.0,235.3 657.5,236.0 658.0,236.5 658.5,236.7 659.0,238.0 659.5,238.3 660.0,238.6 660.5,238.2 661.0,239.2 661.5,239.3 662.0,239.0 662.5,239.3 663.0,239.1 663.5,238.8 664.0,238.7 664.5,238.9 665.0,238.6 665.5,238.9 666.0,239.3 666.5,239.2 667.0,239.3 667.5,239.1 668.0,238.6 668.5,238.9 669.0,238.7 669.5,238.9 670.0,238.5 670.5,237.4 671.0,236.9 671.5,236.4 672.0,234.8 672.5,234.6 673.0,233.0 673.5,233.8 674.0,234.4 674.5,235.5 675.0,236.2 675.5,236.6 676.0,236.6 676.5,237.6 677.0,237.5 677.5,237.8 678.0,238.8 678.5,238.8 679.0,239.1 679.5,239.3 680.0,239.7 680.5,239.2 681.0,239.6 681.5,239.5 682.0,239.7 682.5,239.3 683.0,239.6 683.5,239.4 684.0,239.1 684.5,239.0 685.0,239.4 685.5,238.8 686.0,239.5 686.5,238.7 687.0,238.5 687.5,238.5 688.0,239.3 688.5,238.6 689.0,237.0 689.5,235.4 690.0,234.0 690.5,233.3 691.0,231.8 691.5,230.5 692.0,231.6 692.5,231.9 693.0,233.3 693.5,233.9 694.0,235.2 694.5,236.0 695.0,236.7 695.5,236.6 696.0,238.0 696.5,238.6 697.0,239.1 697.5,238.6 698.0,239.0 698.5,239.0 699.0,239.0 699.5,239.8 700.0,239.8 700.5,239.7 701.0,239.9 701.5,239.7 702.0,239.3 702.5,239.1 703.0,239.1 703.5,239.7 704.0,239.1 704.5,239.2 705.0,239.2 705.5,238.7 706.0,238.9 706.5,238.9 707.0,239.2 707.5,237.4 708.0,235.9 708.5,235.1 709.0,233.2 709.5,232.1 710.0,230.4 710.5,230.8 711.0,232.2 711.5,233.2 712.0,234.4 712.5,234.8 713.0,235.9 713.5,236.5 714.0,236.9 714.5,238.1 715.0,244.7 715.5,254.6 716.0,255.9 716.5,255.9 717.0,256.2 717.5,256.6 718.0,256.8 718.5,255.7 719.0,256.1 719.5,256.0 720.0,256.2 720.5,255.5 721.0,255.6 721.5,255.4 722.0,255.7 722.5,255.0 723.0,255.6 723.5,254.8 724.0,254.5 724.5,254.9 725.0,254.5 725.5,254.0 726.0,254.3 726.5,253.6 727.0,254.1 727.5,253.9 728.0,253.8 728.5,253.5 729.0,253.2 729.5,253.2 730.0,253.1 730.5,253.6 731.0,252.7 731.5,253.5 732.0,252.6 732.5,252.7 733.0,252.7 733.5,253.3 734.0,252.8 734.5,252.7 735.0,253.1 735.5,252.4 736.0,252.7 736.5,252.7 737.0,252.9 737.5,252.9 738.0,252.7 738.5,252.4 739.0,252.3 739.5,252.1 740.0,252.8 740.5,252.5 741.0,252.5 741.5,251.9 742.0,252.1 742.5,252.3 743.0,252.0 743.5,251.5 744.0,251.8 744.5,251.3 745.0,249.6 745.5,248.6 746.0,247.7 746.5,247.1 747.0,246.2 747.5,246.0 748.0,246.7 748.5,247.3 749.0,248.0 749.5,248.7 750.0,248.8 750.5,249.4 751.0,249.7 751.5,250.8 752.0,250.9 752.5,250.6 753.0,251.7 753.5,251.0 754.0,251.3 754.5,251.9 755.0,251.7 755.5,251.6 756.0,251.3 756.5,251.0 757.0,251.5 757.5,250.9 758.0,250.9 758.5,251.1 759.0,250.6 759.5,250.9 760.0,251.3 760.5,251.1 761.0,250.8 761.5,250.9 762.0,250.6 762.5,250.2 763.0,249.8 763.5,248.6 764.0,247.9 764.5,247.1 765.0,245.6 765.5,244.8 766.0,245.4 766.5,245.7 767.0,246.1 767.5,247.1 768.0,247.8 768.5,248.2 769.0,248.5 769.5,249.1 770.0,249.3 770.5,249.6 771.0,249.7 771.5,249.8 772.0,250.3 772.5,249.8 773.0,250.1 773.5,250.5 774.0,250.4 774.5,250.3 775.0,249.9 775.5,250.0 776.0,250.0 776.5,250.1 777.0,249.8 777.5,250.0 778.0,250.2 778.5,249.4 779.0,249.8 779.5,249.8 780.0,249.4 780.5,249.4 781.0,249.8 781.5,248.1 782.0,247.7 782.5,246.5 783.0,246.2 783.5,245.5 784.0,244.2 784.5,244.1 785.0,245.1 785.5,245.6 786.0,246.2 786.5,246.5 787.0,247.0 787.5,247.6 788.0,247.7 788.5,247.9 789.0,248.7 789.5,248.2 790.0,248.9 790.5,248.8" fill="none" stroke="#98c8d7" stroke-width="2.1" stroke-linejoin="round" stroke-linecap="round" opacity="1"/><line x1="302" y1="221.87779818457653" x2="302" y2="229.5" stroke="#b3d3dc" stroke-width="1.3"/><rect x="301" y="227.5" width="2" height="2" fill="#9ab4be"/><line x1="593" y1="238.72143455598572" x2="593" y2="243.8" stroke="#b3d3dc" stroke-width="1.3"/><rect x="592" y="241.8" width="2" height="2" fill="#9ab4be"/><line x1="739" y1="252.5138385670728" x2="739" y2="260.5" stroke="#b3d3dc" stroke-width="1.3"/><rect x="738" y="258.5" width="2" height="2" fill="#9ab4be"/><line x1="788" y1="247.66499987900815" x2="788" y2="258.7" stroke="#b3d3dc" stroke-width="1.3"/><rect x="787" y="256.7" width="2" height="2" fill="#9ab4be"/><line x1="238.8" y1="224.3" x2="807.3" y2="249.5" stroke="#d0caa2" stroke-width="1.8"/><circle cx="238.8" cy="224.3" r="7.1" fill="#d2cda6"/><circle cx="807.3" cy="249.5" r="7.3" fill="#d2cda6"/><polyline points="240.0,269.6 240.5,268.2 241.0,269.8 241.5,268.4 242.0,267.7 242.5,268.0 243.0,268.1 243.5,267.2 244.0,267.8 244.5,267.7 245.0,268.1 245.5,267.2 246.0,266.9 246.5,266.6 247.0,267.5 247.5,268.0 248.0,267.3 248.5,266.8 249.0,268.1 249.5,267.4 250.0,267.1 250.5,267.1 251.0,268.5 251.5,268.6 252.0,268.4 252.5,268.1 253.0,268.4 253.5,267.8 254.0,269.3 254.5,268.2 255.0,268.8 255.5,269.2 256.0,269.2 256.5,268.5 257.0,268.2 257.5,268.7 258.0,267.8 258.5,269.2 259.0,268.2 259.5,269.2 260.0,267.9 260.5,268.1 261.0,267.8 261.5,268.1 262.0,267.5 262.5,267.1 263.0,268.4 263.5,267.5 264.0,267.3 264.5,267.3 265.0,267.6 265.5,269.1 266.0,271.4 266.5,271.4 267.0,270.9 267.5,272.0 268.0,271.9 268.5,270.3 269.0,271.9 269.5,272.0 270.0,271.8 270.5,270.5 271.0,271.8 271.5,271.4 272.0,270.1 272.5,270.1 273.0,271.9 273.5,271.3 274.0,270.4 274.5,270.0 275.0,270.0 275.5,270.1 276.0,271.1 276.5,270.1 277.0,269.6 277.5,270.9 278.0,270.6 278.5,269.2 279.0,270.5 279.5,269.7 280.0,269.9 280.5,269.5 281.0,269.8 281.5,269.4 282.0,269.3 282.5,267.8 283.0,268.6 283.5,268.4 284.0,269.0 284.5,268.7 285.0,270.0 285.5,269.4 286.0,268.8 286.5,268.8 287.0,268.7 287.5,269.4 288.0,268.6 288.5,269.4 289.0,268.8 289.5,269.5 290.0,269.5 290.5,269.6 291.0,270.2 291.5,268.5 292.0,270.1 292.5,269.3 293.0,269.5 293.5,269.6 294.0,269.9 294.5,268.9 295.0,268.9 295.5,269.9 296.0,268.0 296.5,269.0 297.0,268.9 297.5,267.6 298.0,268.6 298.5,268.6 299.0,269.0 299.5,267.6 300.0,268.7 300.5,267.6 301.0,267.4 301.5,268.1 302.0,266.2 302.5,267.9 303.0,268.3 303.5,267.8 304.0,268.9 304.5,268.0 305.0,268.3 305.5,268.5 306.0,269.0 306.5,267.9 307.0,268.4 307.5,268.4 308.0,268.7 308.5,269.3 309.0,268.2 309.5,269.3 310.0,268.4 310.5,268.6 311.0,268.1 311.5,268.6 312.0,269.5 312.5,268.8 313.0,269.0 313.5,268.0 314.0,267.9 314.5,267.8 315.0,268.2 315.5,268.2 316.0,268.4 316.5,266.8 317.0,268.0 317.5,268.2 318.0,267.4 318.5,266.3 319.0,266.6 319.5,265.9 320.0,266.1 320.5,267.6 321.0,267.0 321.5,267.3 322.0,267.8 322.5,268.1 323.0,267.6 323.5,267.7 324.0,267.8 324.5,268.0 325.0,267.8 325.5,268.0 326.0,267.2 326.5,268.1 327.0,267.7 327.5,268.4 328.0,267.0 328.5,267.2 329.0,266.9 329.5,268.4 330.0,268.7 330.5,268.1 331.0,267.5 331.5,268.4 332.0,268.2 332.5,267.7 333.0,267.0 333.5,267.0 334.0,267.2 334.5,266.9 335.0,267.0 335.5,267.3 336.0,267.8 336.5,265.9 337.0,266.8 337.5,265.6 338.0,265.6 338.5,266.9 339.0,266.3 339.5,266.9 340.0,266.0 340.5,265.2 341.0,266.1 341.5,266.6 342.0,267.4 342.5,267.6 343.0,266.7 343.5,266.6 344.0,266.1 344.5,267.2 345.0,266.5 345.5,266.4 346.0,266.2 346.5,266.2 347.0,267.6 347.5,266.5 348.0,268.2 348.5,266.5 349.0,268.0 349.5,266.6 350.0,266.3 350.5,267.7 351.0,266.7 351.5,267.6 352.0,266.5 352.5,266.2 353.0,267.5 353.5,267.3 354.0,267.5 354.5,267.2 355.0,265.8 355.5,266.8 356.0,266.9 356.5,266.3 357.0,267.1 357.5,265.9 358.0,267.5 358.5,267.3 359.0,266.2 359.5,266.3 360.0,267.7 360.5,268.1 361.0,266.7 361.5,267.2 362.0,268.1 362.5,267.0 363.0,268.4 363.5,267.7 364.0,266.9 364.5,267.6 365.0,268.0 365.5,267.7 366.0,268.2 366.5,267.1 367.0,268.4 367.5,267.5 368.0,268.1 368.5,268.0 369.0,267.5 369.5,267.4 370.0,268.1 370.5,268.3 371.0,267.9 371.5,267.4 372.0,266.7 372.5,266.2 373.0,267.9 373.5,267.2 374.0,267.3 374.5,266.2 375.0,266.6 375.5,267.2 376.0,266.8 376.5,267.9 377.0,269.0 377.5,271.0 378.0,273.7 378.5,272.8 379.0,273.5 379.5,273.4 380.0,274.1 380.5,274.0 381.0,273.0 381.5,272.6 382.0,273.2 382.5,273.5 383.0,273.9 383.5,274.4 384.0,274.6 384.5,272.9 385.0,274.6 385.5,274.5 386.0,274.6 386.5,274.0 387.0,273.4 387.5,274.6 388.0,274.4 388.5,274.1 389.0,274.6 389.5,273.4 390.0,272.8 390.5,273.6 391.0,274.0 391.5,272.8 392.0,273.8 392.5,274.0 393.0,272.5 393.5,273.2 394.0,273.2 394.5,271.3 395.0,269.2 395.5,268.0 396.0,267.7 396.5,267.9 397.0,267.3 397.5,266.7 398.0,268.2 398.5,268.2 399.0,267.3 399.5,268.0 400.0,268.7 400.5,273.7 401.0,278.0 401.5,278.0 402.0,278.3 402.5,277.5 403.0,277.5 403.5,277.5 404.0,278.6 404.5,277.9 405.0,278.3 405.5,278.0 406.0,278.2 406.5,277.4 407.0,277.2 407.5,279.0 408.0,277.7 408.5,277.1 409.0,278.1 409.5,278.3 410.0,277.0 410.5,277.8 411.0,277.2 411.5,277.4 412.0,276.3 412.5,277.3 413.0,280.2 413.5,280.9 414.0,281.2 414.5,281.5 415.0,281.0 415.5,282.2 416.0,281.6 416.5,282.7 417.0,282.4 417.5,282.6 418.0,283.0 418.5,281.7 419.0,281.3 419.5,281.7 420.0,281.7 420.5,281.6 421.0,281.5 421.5,282.6 422.0,283.2 422.5,282.4 423.0,283.4 423.5,283.3 424.0,281.6 424.5,282.7 425.0,282.2 425.5,281.6 426.0,283.2 426.5,281.8 427.0,282.3 427.5,282.4 428.0,283.0 428.5,282.3 429.0,281.7 429.5,281.7 430.0,281.0 430.5,282.0 431.0,281.3 431.5,279.1 432.0,278.1 432.5,278.0 433.0,277.8 433.5,279.0 434.0,279.1 434.5,279.1 435.0,277.6 435.5,279.2 436.0,279.1 436.5,279.1 437.0,279.8 437.5,278.0 438.0,278.3 438.5,279.5 439.0,280.0 439.5,279.5 440.0,278.8 440.5,279.4 441.0,279.7 441.5,278.4 442.0,278.8 442.5,278.7 443.0,278.4 443.5,279.1 444.0,278.4 444.5,278.5 445.0,278.3 445.5,279.3 446.0,277.9 446.5,279.2 447.0,278.1 447.5,277.6 448.0,279.3 448.5,277.8 449.0,279.1 449.5,279.0 450.0,278.9 450.5,277.4 451.0,278.1 451.5,277.5 452.0,279.3 452.5,279.3 453.0,278.9 453.5,278.7 454.0,278.6 454.5,279.6 455.0,279.0 455.5,279.4 456.0,278.5 456.5,278.7 457.0,278.5 457.5,279.8 458.0,279.5 458.5,278.7 459.0,280.2 459.5,279.0 460.0,279.3 460.5,278.8 461.0,279.0 461.5,280.1 462.0,279.1 462.5,278.7 463.0,279.3 463.5,278.9 464.0,280.0 464.5,278.4 465.0,280.0 465.5,278.1 466.0,279.7 466.5,279.1 467.0,278.1 467.5,278.5 468.0,278.0 468.5,277.3 469.0,276.4 469.5,276.1 470.0,276.8 470.5,277.0 471.0,276.9 471.5,275.4 472.0,275.9 472.5,277.2 473.0,275.6 473.5,277.0 474.0,276.2 474.5,277.7 475.0,275.8 475.5,277.4 476.0,276.6 476.5,276.2 477.0,276.0 477.5,277.6 478.0,277.0 478.5,276.4 479.0,276.9 479.5,277.8 480.0,276.4 480.5,277.1 481.0,276.2 481.5,276.2 482.0,277.3 482.5,277.1 483.0,276.0 483.5,275.7 484.0,275.6 484.5,276.6 485.0,276.3 485.5,275.7 486.0,275.5 486.5,276.2 487.0,276.3 487.5,276.4 488.0,275.9 488.5,275.3 489.0,275.1 489.5,276.5 490.0,275.9 490.5,276.6 491.0,275.3 491.5,276.8 492.0,275.9 492.5,276.9 493.0,277.0 493.5,276.3 494.0,275.3 494.5,277.1 495.0,276.2 495.5,277.0 496.0,275.7 496.5,275.5 497.0,276.8 497.5,275.8 498.0,275.3 498.5,275.6 499.0,276.0 499.5,274.7 500.0,275.6 500.5,275.4 501.0,275.4 501.5,274.5 502.0,275.5 502.5,275.6 503.0,275.5 503.5,274.3 504.0,274.9 504.5,274.1 505.0,274.7 505.5,273.8 506.0,275.9 506.5,276.7 507.0,276.4 507.5,276.5 508.0,276.6 508.5,276.7 509.0,275.7 509.5,277.6 510.0,276.2 510.5,276.1 511.0,276.0 511.5,276.3 512.0,277.5 512.5,275.9 513.0,276.0 513.5,277.2 514.0,276.2 514.5,275.8 515.0,276.9 515.5,276.9 516.0,276.7 516.5,277.0 517.0,275.7 517.5,277.2 518.0,276.8 518.5,275.3 519.0,275.4 519.5,276.0 520.0,275.9 520.5,275.3 521.0,274.8 521.5,275.3 522.0,274.6 522.5,275.3 523.0,275.7 523.5,274.1 524.0,274.8 524.5,275.4 525.0,274.5 525.5,276.2 526.0,276.8 526.5,275.9 527.0,276.0 527.5,277.0 528.0,276.4 528.5,276.3 529.0,277.5 529.5,277.2 530.0,276.4 530.5,276.3 531.0,276.5 531.5,276.8 532.0,277.9 532.5,277.6 533.0,277.8 533.5,277.7 534.0,277.7 534.5,276.2 535.0,277.1 535.5,277.9 536.0,277.9 536.5,276.5 537.0,276.8 537.5,277.1 538.0,276.5 538.5,276.8 539.0,275.8 539.5,276.4 540.0,276.5 540.5,275.4 541.0,275.6 541.5,277.1 542.0,276.6 542.5,276.9 543.0,276.1 543.5,276.5 544.0,276.8 544.5,277.0 545.0,275.4 545.5,276.7 546.0,276.1 546.5,277.0 547.0,276.3 547.5,276.9 548.0,277.7 548.5,277.2 549.0,276.5 549.5,277.1 550.0,277.0 550.5,278.1 551.0,276.8 551.5,276.8 552.0,277.5 552.5,276.5 553.0,277.4 553.5,278.1 554.0,277.2 554.5,276.7 555.0,277.0 555.5,277.1 556.0,276.3 556.5,276.1 557.0,276.1 557.5,276.3 558.0,276.4 558.5,276.1 559.0,275.9 559.5,275.5 560.0,276.3 560.5,276.8 561.0,276.2 561.5,276.0 562.0,276.1 562.5,275.5 563.0,276.8 563.5,276.6 564.0,277.1 564.5,277.3 565.0,277.1 565.5,276.9 566.0,276.8 566.5,276.9 567.0,277.5 567.5,277.3 568.0,277.8 568.5,276.7 569.0,277.4 569.5,278.5 570.0,277.3 570.5,277.9 571.0,277.8 571.5,277.4 572.0,278.8 572.5,277.4 573.0,278.3 573.5,277.0 574.0,276.8 574.5,278.3 575.0,277.4 575.5,276.6 576.0,277.2 576.5,277.2 577.0,277.7 577.5,276.3 578.0,276.5 578.5,277.8 579.0,277.3 579.5,276.0 580.0,276.3 580.5,276.5 581.0,277.5 581.5,277.8 582.0,278.7 582.5,278.8 583.0,278.3 583.5,279.0 584.0,279.1 584.5,279.3 585.0,278.9 585.5,279.7 586.0,279.7 586.5,280.2 587.0,278.8 587.5,280.4 588.0,278.8 588.5,280.4 589.0,280.1 589.5,280.0 590.0,281.0 590.5,280.3 591.0,280.1 591.5,280.8 592.0,281.0 592.5,280.5 593.0,280.1 593.5,280.3 594.0,280.3 594.5,280.8 595.0,279.9 595.5,280.1 596.0,280.4 596.5,280.1 597.0,279.9 597.5,280.8 598.0,280.9 598.5,281.3 599.0,282.4 599.5,283.3 600.0,284.9 600.5,284.6 601.0,285.6 601.5,285.7 602.0,284.8 602.5,286.6 603.0,285.5 603.5,286.6 604.0,286.7 604.5,287.0 605.0,285.5 605.5,286.0 606.0,287.0 606.5,285.3 607.0,285.4 607.5,286.4 608.0,286.3 608.5,287.1 609.0,286.8 609.5,286.3 610.0,287.2 610.5,286.2 611.0,286.2 611.5,286.5 612.0,285.8 612.5,285.7 613.0,286.1 613.5,285.5 614.0,286.6 614.5,286.0 615.0,285.6 615.5,284.6 616.0,285.1 616.5,286.4 617.0,288.0 617.5,289.3 618.0,291.4 618.5,291.9 619.0,291.3 619.5,291.6 620.0,292.3 620.5,293.4 621.0,292.5 621.5,293.2 622.0,294.1 622.5,293.1 623.0,293.7 623.5,295.4 624.0,295.4 624.5,295.0 625.0,294.5 625.5,296.4 626.0,296.2 626.5,296.8 627.0,297.4 627.5,297.4 628.0,296.7 628.5,296.4 629.0,296.9 629.5,297.5 630.0,297.7 630.5,296.3 631.0,295.4 631.5,295.5 632.0,294.6 632.5,293.2 633.0,293.6 633.5,292.1 634.0,290.0 634.5,289.9 635.0,289.8 635.5,289.0 636.0,289.9 636.5,288.9 637.0,289.8 637.5,291.0 638.0,290.6 638.5,290.9 639.0,290.0 639.5,290.7 640.0,290.9 640.5,290.4 641.0,291.3 641.5,291.1 642.0,292.1 642.5,291.3 643.0,291.0 643.5,290.5 644.0,290.6 644.5,291.8 645.0,290.5 645.5,290.5 646.0,290.6 646.5,291.3 647.0,291.9 647.5,291.4 648.0,291.8 648.5,290.2 649.0,290.1 649.5,291.5 650.0,290.5 650.5,291.2 651.0,290.4 651.5,290.0 652.0,290.1 652.5,289.6 653.0,291.1 653.5,290.4 654.0,289.8 654.5,289.3 655.0,288.6 655.5,287.5 656.0,288.6 656.5,288.1 657.0,288.9 657.5,287.9 658.0,288.3 658.5,287.6 659.0,287.2 659.5,289.0 660.0,288.9 660.5,287.8 661.0,289.0 661.5,288.8 662.0,287.8 662.5,288.4 663.0,289.1 663.5,288.1 664.0,288.9 664.5,287.5 665.0,287.7 665.5,288.3 666.0,287.2 666.5,287.3 667.0,288.3 667.5,287.4 668.0,287.9 668.5,286.7 669.0,286.4 669.5,286.7 670.0,286.2 670.5,287.6 671.0,286.1 671.5,286.5 672.0,285.4 672.5,286.2 673.0,285.9 673.5,286.2 674.0,285.7 674.5,285.8 675.0,287.2 675.5,286.2 676.0,286.0 676.5,285.9 677.0,286.0 677.5,285.9 678.0,285.5 678.5,286.7 679.0,286.0 679.5,285.6 680.0,286.6 680.5,285.3 681.0,285.6 681.5,286.6 682.0,285.1 682.5,285.6 683.0,286.3 683.5,286.1 684.0,284.7 684.5,284.9 685.0,285.5 685.5,284.7 686.0,285.6 686.5,284.0 687.0,285.3 687.5,284.2 688.0,283.4 688.5,283.7 689.0,282.8 689.5,283.8 690.0,282.7 690.5,283.7 691.0,282.9 691.5,283.3 692.0,284.1 692.5,285.8 693.0,286.1 693.5,287.7 694.0,286.5 694.5,287.6 695.0,287.9 695.5,287.6 696.0,288.9 696.5,288.4 697.0,289.2 697.5,289.3 698.0,289.1 698.5,289.5 699.0,289.1 699.5,289.5 700.0,291.1 700.5,290.2 701.0,291.1 701.5,290.2 702.0,291.2 702.5,291.0 703.0,291.4 703.5,291.2 704.0,290.9 704.5,291.5 705.0,291.5 705.5,291.4 706.0,292.7 706.5,291.9 707.0,292.3 707.5,293.4 708.0,293.2 708.5,293.5 709.0,293.5 709.5,292.2 710.0,292.6 710.5,292.2 711.0,293.6 711.5,293.7 712.0,293.1 712.5,295.0 713.0,297.3 713.5,299.2 714.0,300.1 714.5,303.0 715.0,303.8 715.5,306.1 716.0,307.0 716.5,306.3 717.0,307.4 717.5,306.5 718.0,305.9 718.5,304.3 719.0,304.0 719.5,304.0 720.0,303.8 720.5,303.7 721.0,303.5 721.5,302.5 722.0,302.7 722.5,303.0 723.0,301.8 723.5,302.8 724.0,301.9 724.5,301.8 725.0,300.5 725.5,300.5 726.0,300.6 726.5,299.5 727.0,298.5 727.5,299.7 728.0,299.2 728.5,297.9 729.0,297.2 729.5,298.6 730.0,297.9 730.5,296.6 731.0,296.8 731.5,296.6 732.0,297.9 732.5,296.8 733.0,298.1 733.5,297.8 734.0,296.5 734.5,297.6 735.0,297.0 735.5,297.7 736.0,297.8 736.5,296.6 737.0,296.1 737.5,297.8 738.0,296.6 738.5,297.5 739.0,297.0 739.5,296.9 740.0,297.0 740.5,296.4 741.0,295.9 741.5,295.0 742.0,296.1 742.5,295.4 743.0,295.4 743.5,296.0 744.0,294.3 744.5,295.3 745.0,293.7 745.5,294.8 746.0,294.8 746.5,293.5 747.0,293.9 747.5,295.6 748.0,295.8 748.5,296.5 749.0,296.7 749.5,296.5 750.0,297.3 750.5,297.5 751.0,297.2 751.5,297.6 752.0,297.4 752.5,298.7 753.0,298.7 753.5,298.0 754.0,298.1 754.5,298.7 755.0,298.7 755.5,299.7 756.0,298.6 756.5,298.6 757.0,299.8 757.5,298.4 758.0,299.2 758.5,298.8 759.0,299.8 759.5,299.3 760.0,299.7 760.5,298.5 761.0,299.5 761.5,299.3 762.0,299.0 762.5,299.6 763.0,299.7 763.5,298.2 764.0,298.5 764.5,298.6 765.0,298.2 765.5,297.7 766.0,298.0 766.5,297.8 767.0,298.7 767.5,298.1 768.0,297.4 768.5,297.7 769.0,297.9 769.5,297.6 770.0,297.1 770.5,296.9 771.0,296.6 771.5,298.5 772.0,297.9 772.5,296.4 773.0,297.5 773.5,297.9 774.0,296.9 774.5,295.8 775.0,296.4 775.5,296.1 776.0,295.4 776.5,295.9 777.0,294.6 777.5,296.2 778.0,295.5 778.5,295.2 779.0,295.6 779.5,294.7 780.0,293.7 780.5,293.4 781.0,292.9 781.5,292.4 782.0,293.6 782.5,293.5 783.0,292.1 783.5,291.6 784.0,292.2 784.5,294.8 785.0,297.3 785.5,298.0 786.0,301.5 786.5,301.6 787.0,301.4 787.5,300.6 788.0,300.4 788.5,301.6 789.0,300.6 789.5,300.7 790.0,301.1 790.5,300.7 791.0,301.6 791.5,300.4 792.0,299.9 792.5,300.9 793.0,301.0 793.5,301.3 794.0,301.0 794.5,301.3 795.0,301.2 795.5,300.2 796.0,300.1 796.5,299.3 797.0,299.4 797.5,299.9 798.0,298.7 798.5,299.8 799.0,298.5 799.5,298.9 800.0,299.8 800.5,297.9 801.0,297.6 801.5,298.2 802.0,297.5 802.5,298.5 803.0,297.1 803.5,298.9 804.0,299.0 804.5,299.0" fill="none" stroke="#4291c6" stroke-width="2.5" stroke-linejoin="round" stroke-linecap="round" opacity="1"/><line x1="247.0" y1="266.0" x2="247.0" y2="265.0" stroke="#a6c0cb" stroke-width="2.2"/><rect x="245.6" y="262.0" width="2.8" height="4.2" rx="1" fill="#6b8d9f"/><rect x="245.9" y="262.0" width="2.2" height="2.5" fill="#88a9b8"/><line x1="284.0" y1="267.5" x2="284.0" y2="258.5" stroke="#a6c0cb" stroke-width="2.2"/><rect x="282.6" y="255.5" width="2.8" height="4.2" rx="1" fill="#6b8d9f"/><rect x="282.9" y="263.5" width="2.2" height="2.5" fill="#88a9b8"/><line x1="302.6" y1="266.6" x2="302.6" y2="258.5" stroke="#a6c0cb" stroke-width="2.2"/><rect x="301.2" y="255.5" width="2.8" height="4.2" rx="1" fill="#6b8d9f"/><rect x="301.5" y="262.6" width="2.2" height="2.5" fill="#88a9b8"/><line x1="321.1" y1="265.8" x2="321.1" y2="258.5" stroke="#a6c0cb" stroke-width="2.2"/><rect x="319.7" y="255.5" width="2.8" height="4.2" rx="1" fill="#6b8d9f"/><rect x="320.0" y="261.8" width="2.2" height="2.5" fill="#88a9b8"/><line x1="339.6" y1="265.0" x2="339.6" y2="258.5" stroke="#a6c0cb" stroke-width="2.2"/><rect x="338.2" y="255.5" width="2.8" height="4.2" rx="1" fill="#6b8d9f"/><rect x="338.5" y="261.0" width="2.2" height="2.5" fill="#88a9b8"/><line x1="358.1" y1="265.6" x2="358.1" y2="258.5" stroke="#a6c0cb" stroke-width="2.2"/><rect x="356.7" y="255.5" width="2.8" height="4.2" rx="1" fill="#6b8d9f"/><rect x="357.0" y="261.6" width="2.2" height="2.5" fill="#88a9b8"/><line x1="376.6" y1="267.1" x2="376.6" y2="262.2" stroke="#a6c0cb" stroke-width="2.2"/><rect x="375.2" y="259.2" width="2.8" height="4.2" rx="1" fill="#6b8d9f"/><rect x="375.5" y="263.1" width="2.2" height="2.5" fill="#88a9b8"/><line x1="395.2" y1="268.4" x2="395.2" y2="258.0" stroke="#a6c0cb" stroke-width="2.2"/><rect x="393.8" y="255.0" width="2.8" height="4.2" rx="1" fill="#6b8d9f"/><rect x="394.1" y="264.4" width="2.2" height="2.5" fill="#88a9b8"/><line x1="413.7" y1="279.5" x2="413.7" y2="270.7" stroke="#a6c0cb" stroke-width="2.2"/><rect x="412.3" y="267.7" width="2.8" height="4.2" rx="1" fill="#6b8d9f"/><rect x="412.6" y="275.5" width="2.2" height="2.5" fill="#88a9b8"/><line x1="432.2" y1="277.8" x2="432.2" y2="268.9" stroke="#a6c0cb" stroke-width="2.2"/><rect x="430.8" y="265.9" width="2.8" height="4.2" rx="1" fill="#6b8d9f"/><rect x="431.1" y="273.8" width="2.2" height="2.5" fill="#88a9b8"/><line x1="450.7" y1="277.1" x2="450.7" y2="268.3" stroke="#a6c0cb" stroke-width="2.2"/><rect x="449.3" y="265.3" width="2.8" height="4.2" rx="1" fill="#6b8d9f"/><rect x="449.6" y="273.1" width="2.2" height="2.5" fill="#88a9b8"/><line x1="469.2" y1="275.6" x2="469.2" y2="270.1" stroke="#a6c0cb" stroke-width="2.2"/><rect x="467.8" y="267.1" width="2.8" height="4.2" rx="1" fill="#6b8d9f"/><rect x="468.1" y="271.6" width="2.2" height="2.5" fill="#88a9b8"/><line x1="487.8" y1="274.7" x2="487.8" y2="267.7" stroke="#a6c0cb" stroke-width="2.2"/><rect x="486.4" y="264.7" width="2.8" height="4.2" rx="1" fill="#6b8d9f"/><rect x="486.7" y="270.7" width="2.2" height="2.5" fill="#88a9b8"/><line x1="506.3" y1="274.4" x2="506.3" y2="269.5" stroke="#a6c0cb" stroke-width="2.2"/><rect x="504.9" y="266.5" width="2.8" height="4.2" rx="1" fill="#6b8d9f"/><rect x="505.2" y="270.4" width="2.2" height="2.5" fill="#88a9b8"/><line x1="524.8" y1="274.0" x2="524.8" y2="270.1" stroke="#a6c0cb" stroke-width="2.2"/><rect x="523.4" y="267.1" width="2.8" height="4.2" rx="1" fill="#6b8d9f"/><rect x="523.7" y="270.0" width="2.2" height="2.5" fill="#88a9b8"/><line x1="543.3" y1="274.8" x2="543.3" y2="269.6" stroke="#a6c0cb" stroke-width="2.2"/><rect x="541.9" y="266.6" width="2.8" height="4.2" rx="1" fill="#6b8d9f"/><rect x="542.2" y="270.8" width="2.2" height="2.5" fill="#88a9b8"/><line x1="561.8" y1="274.8" x2="561.8" y2="269.6" stroke="#a6c0cb" stroke-width="2.2"/><rect x="560.4" y="266.6" width="2.8" height="4.2" rx="1" fill="#6b8d9f"/><rect x="560.7" y="270.8" width="2.2" height="2.5" fill="#88a9b8"/><line x1="580.4" y1="275.7" x2="580.4" y2="269.6" stroke="#a6c0cb" stroke-width="2.2"/><rect x="579.0" y="266.6" width="2.8" height="4.2" rx="1" fill="#6b8d9f"/><rect x="579.3" y="271.7" width="2.2" height="2.5" fill="#88a9b8"/><line x1="598.9" y1="281.2" x2="598.9" y2="278.8" stroke="#a6c0cb" stroke-width="2.2"/><rect x="597.5" y="275.8" width="2.8" height="4.2" rx="1" fill="#6b8d9f"/><rect x="597.8" y="277.2" width="2.2" height="2.5" fill="#88a9b8"/><line x1="617.4" y1="287.8" x2="617.4" y2="279.4" stroke="#a6c0cb" stroke-width="2.2"/><rect x="616.0" y="276.4" width="2.8" height="4.2" rx="1" fill="#6b8d9f"/><rect x="616.3" y="283.8" width="2.2" height="2.5" fill="#88a9b8"/><line x1="635.9" y1="288.5" x2="635.9" y2="278.9" stroke="#a6c0cb" stroke-width="2.2"/><rect x="634.5" y="275.9" width="2.8" height="4.2" rx="1" fill="#6b8d9f"/><rect x="634.8" y="284.5" width="2.2" height="2.5" fill="#88a9b8"/><line x1="654.4" y1="288.4" x2="654.4" y2="280.1" stroke="#a6c0cb" stroke-width="2.2"/><rect x="653.0" y="277.1" width="2.8" height="4.2" rx="1" fill="#6b8d9f"/><rect x="653.3" y="284.4" width="2.2" height="2.5" fill="#88a9b8"/><line x1="673.0" y1="285.1" x2="673.0" y2="279.5" stroke="#a6c0cb" stroke-width="2.2"/><rect x="671.6" y="276.5" width="2.8" height="4.2" rx="1" fill="#6b8d9f"/><rect x="671.9" y="281.1" width="2.2" height="2.5" fill="#88a9b8"/><line x1="691.5" y1="282.5" x2="691.5" y2="276.5" stroke="#a6c0cb" stroke-width="2.2"/><rect x="690.1" y="273.5" width="2.8" height="4.2" rx="1" fill="#6b8d9f"/><rect x="690.4" y="278.5" width="2.2" height="2.5" fill="#88a9b8"/><line x1="710.0" y1="292.0" x2="710.0" y2="285.6" stroke="#a6c0cb" stroke-width="2.2"/><rect x="708.6" y="282.6" width="2.8" height="4.2" rx="1" fill="#6b8d9f"/><rect x="708.9" y="288.0" width="2.2" height="2.5" fill="#88a9b8"/><line x1="728.5" y1="297.3" x2="728.5" y2="291.9" stroke="#a6c0cb" stroke-width="2.2"/><rect x="727.1" y="288.9" width="2.8" height="4.2" rx="1" fill="#6b8d9f"/><rect x="727.4" y="293.3" width="2.2" height="2.5" fill="#88a9b8"/><line x1="747.0" y1="292.9" x2="747.0" y2="291.3" stroke="#a6c0cb" stroke-width="2.2"/><rect x="745.6" y="288.3" width="2.8" height="4.2" rx="1" fill="#6b8d9f"/><rect x="745.9" y="288.9" width="2.2" height="2.5" fill="#88a9b8"/><line x1="765.6" y1="297.5" x2="765.6" y2="288.8" stroke="#a6c0cb" stroke-width="2.2"/><rect x="764.2" y="285.8" width="2.8" height="4.2" rx="1" fill="#6b8d9f"/><rect x="764.5" y="293.5" width="2.2" height="2.5" fill="#88a9b8"/><line x1="784.1" y1="291.2" x2="784.1" y2="287.6" stroke="#a6c0cb" stroke-width="2.2"/><rect x="782.7" y="284.6" width="2.8" height="4.2" rx="1" fill="#6b8d9f"/><rect x="783.0" y="287.2" width="2.2" height="2.5" fill="#88a9b8"/><line x1="802.6" y1="297.0" x2="802.6" y2="288.2" stroke="#a6c0cb" stroke-width="2.2"/><rect x="801.2" y="285.2" width="2.8" height="4.2" rx="1" fill="#6b8d9f"/><rect x="801.5" y="293.0" width="2.2" height="2.5" fill="#88a9b8"/><line x1="240" y1="269.1" x2="240" y2="271.0" stroke="#a6c0cb" stroke-width="1.8"/><rect x="238.8" y="270.5" width="2.4" height="3" fill="#6b8d9f"/><line x1="368" y1="267.8" x2="368" y2="272.5" stroke="#a6c0cb" stroke-width="1.8"/><rect x="366.8" y="272.0" width="2.4" height="3" fill="#6b8d9f"/><line x1="373" y1="266.9" x2="373" y2="270.5" stroke="#a6c0cb" stroke-width="1.8"/><rect x="371.8" y="270.0" width="2.4" height="3" fill="#6b8d9f"/><line x1="384" y1="273.8" x2="384" y2="275.0" stroke="#a6c0cb" stroke-width="1.8"/><rect x="382.8" y="274.5" width="2.4" height="3" fill="#6b8d9f"/><line x1="402" y1="278.1" x2="402" y2="280.4" stroke="#a6c0cb" stroke-width="1.8"/><rect x="400.8" y="279.9" width="2.4" height="3" fill="#6b8d9f"/><line x1="427" y1="282.2" x2="427" y2="284.0" stroke="#a6c0cb" stroke-width="1.8"/><rect x="425.8" y="283.5" width="2.4" height="3" fill="#6b8d9f"/><line x1="455" y1="279.1" x2="455" y2="282.9" stroke="#a6c0cb" stroke-width="1.8"/><rect x="453.8" y="282.4" width="2.4" height="3" fill="#6b8d9f"/><line x1="460" y1="279.5" x2="460" y2="282.9" stroke="#a6c0cb" stroke-width="1.8"/><rect x="458.8" y="282.4" width="2.4" height="3" fill="#6b8d9f"/><line x1="602" y1="285.7" x2="602" y2="289.1" stroke="#a6c0cb" stroke-width="1.8"/><rect x="600.8" y="288.6" width="2.4" height="3" fill="#6b8d9f"/><line x1="729.2" y1="298.0" x2="729.2" y2="308.3" stroke="#a6c0cb" stroke-width="1.8"/><rect x="728.0" y="307.8" width="2.4" height="3" fill="#6b8d9f"/><line x1="766.6" y1="298.4" x2="766.6" y2="300.3" stroke="#a6c0cb" stroke-width="1.8"/><rect x="765.4" y="299.8" width="2.4" height="3" fill="#6b8d9f"/><line x1="784.9" y1="296.0" x2="784.9" y2="303.4" stroke="#a6c0cb" stroke-width="1.8"/><rect x="783.7" y="302.9" width="2.4" height="3" fill="#6b8d9f"/><line x1="238.8" y1="262.3" x2="807.3" y2="296.2" stroke="#a3b857" stroke-width="2"/><circle cx="238.8" cy="262.2" r="7" fill="#9db443"/><circle cx="807.3" cy="296.2" r="7.3" fill="#9db443"/><polyline points="240.0,550.2 242.0,550.1 244.0,550.4 246.0,550.2 248.0,550.1 250.0,549.9 252.0,549.9 254.0,550.0 256.0,550.1 258.0,550.0 260.0,549.4 262.0,549.4 264.0,549.5 266.0,549.5 268.0,549.3 270.0,549.2 272.0,549.2 274.0,549.4 276.0,549.6 278.0,550.0 280.0,550.1 282.0,550.1 284.0,550.3 286.0,550.4 288.0,550.2 290.0,550.4 292.0,549.8 294.0,550.4 296.0,550.3 298.0,550.1 300.0,550.3 302.0,550.5 304.0,550.1 306.0,550.2 308.0,549.8 310.0,549.7 312.0,550.1 314.0,549.3 316.0,549.3 318.0,549.7 320.0,549.4 322.0,549.1 324.0,549.5 326.0,549.3 328.0,549.5 330.0,549.4 332.0,549.5 334.0,549.6 336.0,549.6 338.0,549.4 340.0,549.6 342.0,550.2 344.0,550.0 346.0,549.7 348.0,550.4 350.0,549.9 352.0,549.8 354.0,550.2 356.0,549.9 358.0,550.1 360.0,550.1 362.0,549.8 364.0,550.0 366.0,549.5 368.0,549.7 370.0,549.7 372.0,549.2 374.0,549.4 376.0,549.1 378.0,549.3 380.0,549.6 382.0,549.4 384.0,549.5 386.0,549.6 388.0,549.1 390.0,549.9 392.0,549.7 394.0,549.3 396.0,550.0 398.0,549.7 400.0,549.6 402.0,550.3 404.0,550.1 406.0,550.3 408.0,549.8 410.0,550.3 412.0,549.7 414.0,549.8 416.0,549.9 418.0,549.5 420.0,549.9 422.0,549.5 424.0,549.5 426.0,549.8 428.0,549.4 430.0,549.7 432.0,549.5 434.0,549.6 436.0,549.3 438.0,549.6 440.0,549.6 442.0,549.0 444.0,549.5 446.0,549.3 448.0,549.7 450.0,549.7 452.0,549.9 454.0,549.4 456.0,549.7 458.0,550.1 460.0,550.3 462.0,550.2 464.0,549.7 466.0,550.1 468.0,549.7 470.0,550.0 472.0,550.2 474.0,549.6 476.0,550.2 478.0,549.9 480.0,549.4 482.0,549.3 484.0,549.4 486.0,549.7 488.0,549.4 490.0,548.9 492.0,548.8 494.0,548.9 496.0,549.4 498.0,549.0 500.0,549.3 502.0,549.1 504.0,549.5 506.0,549.4 508.0,549.3 510.0,549.9 512.0,549.7 514.0,549.9 516.0,550.1 518.0,550.3 520.0,549.6 522.0,549.8 524.0,549.7 526.0,549.9 528.0,550.2 530.0,550.1 532.0,549.4 534.0,549.4 536.0,549.9 538.0,549.7 540.0,549.3 542.0,549.3 544.0,549.0 546.0,549.5 548.0,549.1 550.0,549.4 552.0,549.2 554.0,548.8 556.0,549.0 558.0,549.0 560.0,549.6 562.0,549.4 564.0,549.1 566.0,549.3 568.0,549.5 570.0,549.7 572.0,549.8 574.0,549.7 576.0,549.7 578.0,549.5 580.0,550.0 582.0,549.7 584.0,549.5 586.0,549.8 588.0,550.1 590.0,549.3 592.0,549.3 594.0,549.6 596.0,549.2 598.0,549.1 600.0,549.2 602.0,549.0 604.0,549.2 606.0,549.1 608.0,549.4 610.0,549.5 612.0,548.7 614.0,549.2 616.0,549.4 618.0,549.6 620.0,549.6 622.0,549.5 624.0,549.6 626.0,549.5 628.0,549.5 630.0,550.0 632.0,550.1 634.0,550.2 636.0,550.0 638.0,549.7 640.0,550.0 642.0,549.9 644.0,549.7 646.0,549.7 648.0,549.4 650.0,549.5 652.0,549.3 654.0,548.9 656.0,549.0 658.0,549.0 660.0,549.4 662.0,549.0 664.0,548.9 666.0,548.8 668.0,548.8 670.0,548.9 672.0,548.8 674.0,548.8 676.0,549.6 678.0,549.3 680.0,549.4 682.0,549.6 684.0,549.4 686.0,549.4 688.0,549.4 690.0,549.6 692.0,549.6 694.0,549.9 696.0,549.8 698.0,550.0 700.0,549.5 702.0,549.9 704.0,549.5 706.0,549.0 708.0,549.0 710.0,549.3 712.0,549.5 714.0,548.9 716.0,549.2 718.0,548.9 720.0,549.2 722.0,548.6 724.0,548.9 726.0,549.3 728.0,548.9 730.0,548.9 732.0,548.8 734.0,549.0 736.0,549.2 738.0,549.6 740.0,549.3 742.0,549.5 744.0,549.4 746.0,549.7 748.0,550.0 750.0,549.8 752.0,549.4 754.0,549.8 756.0,549.9 758.0,549.6 760.0,549.1 762.0,549.6 764.0,549.5 766.0,549.0 768.0,548.8 770.0,548.7 772.0,549.0 774.0,549.2 776.0,549.0 778.0,549.2 780.0,548.6 782.0,548.8 784.0,549.1 786.0,549.1 788.0,549.0 790.0,549.3 792.0,549.1 794.0,549.0 796.0,549.3 798.0,549.1 800.0,549.6 802.0,549.5 804.0,549.6" fill="none" stroke="#eef3d6" stroke-width="4.5" stroke-linejoin="round" stroke-linecap="round" opacity="1"/><rect x="671.3" y="547.3" width="5.3" height="1.6" fill="#e6cf86" opacity="0.8"/><rect x="484.4" y="549.3" width="5.8" height="1.6" fill="#e6cf86" opacity="0.8"/><rect x="796.0" y="546.7" width="6.1" height="1.6" fill="#e6cf86" opacity="0.8"/><rect x="711.7" y="547.5" width="3.5" height="1.6" fill="#e6cf86" opacity="0.8"/><rect x="530.0" y="546.9" width="6.8" height="1.6" fill="#e6cf86" opacity="0.8"/><rect x="508.8" y="548.9" width="5.1" height="1.6" fill="#e6cf86" opacity="0.8"/><rect x="652.4" y="548.3" width="5.8" height="1.6" fill="#e6cf86" opacity="0.8"/><rect x="690.4" y="548.3" width="4.7" height="1.6" fill="#e6cf86" opacity="0.8"/><rect x="717.1" y="547.3" width="6.6" height="1.6" fill="#e6cf86" opacity="0.8"/><rect x="724.3" y="548.8" width="4.5" height="1.6" fill="#e6cf86" opacity="0.8"/><rect x="727.2" y="549.4" width="5.3" height="1.6" fill="#e6cf86" opacity="0.8"/><rect x="569.0" y="548.1" width="7.7" height="1.6" fill="#e6cf86" opacity="0.8"/><rect x="522.2" y="546.5" width="5.4" height="1.6" fill="#e6cf86" opacity="0.8"/><rect x="689.7" y="548.8" width="4.8" height="1.6" fill="#e6cf86" opacity="0.8"/><rect x="796.6" y="547.2" width="6.8" height="1.6" fill="#e6cf86" opacity="0.8"/><rect x="508.8" y="546.6" width="3.7" height="1.6" fill="#e6cf86" opacity="0.8"/><rect x="499.3" y="548.0" width="5.8" height="1.6" fill="#e6cf86" opacity="0.8"/><rect x="538.2" y="549.3" width="4.8" height="1.6" fill="#e6cf86" opacity="0.8"/><rect x="527.8" y="547.0" width="6.7" height="1.6" fill="#e6cf86" opacity="0.8"/><rect x="774.9" y="547.0" width="3.1" height="1.6" fill="#e6cf86" opacity="0.8"/><rect x="729.0" y="547.2" width="7.9" height="1.6" fill="#e6cf86" opacity="0.8"/><rect x="639.7" y="548.4" width="4.7" height="1.6" fill="#e6cf86" opacity="0.8"/><rect x="736.2" y="547.9" width="4.6" height="1.6" fill="#e6cf86" opacity="0.8"/><rect x="769.1" y="546.8" width="6.7" height="1.6" fill="#e6cf86" opacity="0.8"/><rect x="500.9" y="548.4" width="5.0" height="1.6" fill="#e6cf86" opacity="0.8"/><rect x="756.5" y="546.7" width="5.8" height="1.6" fill="#e6cf86" opacity="0.8"/><rect x="611.2" y="549.3" width="7.7" height="1.6" fill="#e6cf86" opacity="0.8"/><rect x="680.7" y="547.2" width="4.3" height="1.6" fill="#e6cf86" opacity="0.8"/><rect x="563.9" y="547.8" width="4.2" height="1.6" fill="#e6cf86" opacity="0.8"/><rect x="545.0" y="548.8" width="6.2" height="1.6" fill="#e6cf86" opacity="0.8"/><rect x="575.5" y="549.5" width="4.1" height="1.6" fill="#e6cf86" opacity="0.8"/><rect x="662.2" y="547.0" width="7.3" height="1.6" fill="#e6cf86" opacity="0.8"/><rect x="758.2" y="547.3" width="6.8" height="1.6" fill="#e6cf86" opacity="0.8"/><rect x="743.3" y="547.3" width="4.7" height="1.6" fill="#e6cf86" opacity="0.8"/><rect x="635.4" y="549.2" width="3.8" height="1.6" fill="#e6cf86" opacity="0.8"/><rect x="698.5" y="548.3" width="5.3" height="1.6" fill="#e6cf86" opacity="0.8"/><rect x="665.4" y="549.1" width="4.0" height="1.6" fill="#e6cf86" opacity="0.8"/><rect x="762.7" y="547.6" width="6.9" height="1.6" fill="#e6cf86" opacity="0.8"/><rect x="756.3" y="547.0" width="7.3" height="1.6" fill="#e6cf86" opacity="0.8"/><rect x="798.3" y="547.4" width="3.1" height="1.6" fill="#e6cf86" opacity="0.8"/><rect x="515.7" y="549.4" width="3.0" height="1.6" fill="#e6cf86" opacity="0.8"/><rect x="771.7" y="547.0" width="6.7" height="1.6" fill="#e6cf86" opacity="0.8"/><rect x="511.2" y="547.0" width="6.4" height="1.6" fill="#e6cf86" opacity="0.8"/><rect x="508.9" y="547.5" width="7.6" height="1.6" fill="#e6cf86" opacity="0.8"/><rect x="709.2" y="549.1" width="7.9" height="1.6" fill="#e6cf86" opacity="0.8"/><rect x="490.5" y="547.2" width="7.0" height="1.6" fill="#e6cf86" opacity="0.8"/><rect x="700.6" y="546.6" width="5.5" height="1.6" fill="#e6cf86" opacity="0.8"/><rect x="554.1" y="547.8" width="3.5" height="1.6" fill="#e6cf86" opacity="0.8"/><rect x="486.4" y="549.5" width="4.6" height="1.6" fill="#e6cf86" opacity="0.8"/><rect x="761.1" y="546.9" width="5.4" height="1.6" fill="#e6cf86" opacity="0.8"/><rect x="523.5" y="547.8" width="3.9" height="1.6" fill="#e6cf86" opacity="0.8"/><rect x="699.3" y="546.9" width="6.7" height="1.6" fill="#e6cf86" opacity="0.8"/><rect x="640.2" y="546.8" width="4.8" height="1.6" fill="#e6cf86" opacity="0.8"/><rect x="638.8" y="549.3" width="4.7" height="1.6" fill="#e6cf86" opacity="0.8"/><rect x="548.8" y="549.4" width="7.4" height="1.6" fill="#e6cf86" opacity="0.8"/><rect x="714.0" y="547.3" width="3.9" height="1.6" fill="#e6cf86" opacity="0.8"/><rect x="564.7" y="546.7" width="3.2" height="1.6" fill="#e6cf86" opacity="0.8"/><rect x="642.8" y="547.7" width="5.8" height="1.6" fill="#e6cf86" opacity="0.8"/><rect x="596.0" y="546.5" width="6.4" height="1.6" fill="#e6cf86" opacity="0.8"/><rect x="689.0" y="548.1" width="5.7" height="1.6" fill="#e6cf86" opacity="0.8"/><polyline points="240.0,550.2 242.0,550.1 244.0,550.4 246.0,550.2 248.0,550.1 250.0,549.9 252.0,549.9 254.0,550.0 256.0,550.1 258.0,550.0 260.0,549.4 262.0,549.4 264.0,549.5 266.0,549.5 268.0,549.3 270.0,549.2 272.0,549.2 274.0,549.4 276.0,549.6 278.0,550.0 280.0,550.1 282.0,550.1 284.0,550.3 286.0,550.4 288.0,550.2 290.0,550.4 292.0,549.8 294.0,550.4 296.0,550.3 298.0,550.1 300.0,550.3 302.0,550.5 304.0,550.1 306.0,550.2 308.0,549.8 310.0,549.7 312.0,550.1 314.0,549.3 316.0,549.3 318.0,549.7 320.0,549.4 322.0,549.1 324.0,549.5 326.0,549.3 328.0,549.5 330.0,549.4 332.0,549.5 334.0,549.6 336.0,549.6 338.0,549.4 340.0,549.6 342.0,550.2 344.0,550.0 346.0,549.7 348.0,550.4 350.0,549.9 352.0,549.8 354.0,550.2 356.0,549.9 358.0,550.1 360.0,550.1 362.0,549.8 364.0,550.0 366.0,549.5 368.0,549.7 370.0,549.7 372.0,549.2 374.0,549.4 376.0,549.1 378.0,549.3 380.0,549.6 382.0,549.4 384.0,549.5 386.0,549.6 388.0,549.1 390.0,549.9 392.0,549.7 394.0,549.3 396.0,550.0 398.0,549.7 400.0,549.6 402.0,550.3 404.0,550.1 406.0,550.3 408.0,549.8 410.0,550.3 412.0,549.7 414.0,549.8 416.0,549.9 418.0,549.5 420.0,549.9 422.0,549.5 424.0,549.5 426.0,549.8 428.0,549.4 430.0,549.7 432.0,549.5 434.0,549.6 436.0,549.3 438.0,549.6 440.0,549.6 442.0,549.0 444.0,549.5 446.0,549.3 448.0,549.7 450.0,549.7 452.0,549.9 454.0,549.4 456.0,549.7 458.0,550.1 460.0,550.3 462.0,550.2 464.0,549.7 466.0,550.1 468.0,549.7 470.0,550.0 472.0,550.2 474.0,549.6 476.0,550.2 478.0,549.9 480.0,549.4 482.0,549.3 484.0,549.4 486.0,549.7 488.0,549.4 490.0,548.9 492.0,548.8 494.0,548.9 496.0,549.4 498.0,549.0 500.0,549.3 502.0,549.1 504.0,549.5 506.0,549.4 508.0,549.3 510.0,549.9 512.0,549.7 514.0,549.9 516.0,550.1 518.0,550.3 520.0,549.6 522.0,549.8 524.0,549.7 526.0,549.9 528.0,550.2 530.0,550.1 532.0,549.4 534.0,549.4 536.0,549.9 538.0,549.7 540.0,549.3 542.0,549.3 544.0,549.0 546.0,549.5 548.0,549.1 550.0,549.4 552.0,549.2 554.0,548.8 556.0,549.0 558.0,549.0 560.0,549.6 562.0,549.4 564.0,549.1 566.0,549.3 568.0,549.5 570.0,549.7 572.0,549.8 574.0,549.7 576.0,549.7 578.0,549.5 580.0,550.0 582.0,549.7 584.0,549.5 586.0,549.8 588.0,550.1 590.0,549.3 592.0,549.3 594.0,549.6 596.0,549.2 598.0,549.1 600.0,549.2 602.0,549.0 604.0,549.2 606.0,549.1 608.0,549.4 610.0,549.5 612.0,548.7 614.0,549.2 616.0,549.4 618.0,549.6 620.0,549.6 622.0,549.5 624.0,549.6 626.0,549.5 628.0,549.5 630.0,550.0 632.0,550.1 634.0,550.2 636.0,550.0 638.0,549.7 640.0,550.0 642.0,549.9 644.0,549.7 646.0,549.7 648.0,549.4 650.0,549.5 652.0,549.3 654.0,548.9 656.0,549.0 658.0,549.0 660.0,549.4 662.0,549.0 664.0,548.9 666.0,548.8 668.0,548.8 670.0,548.9 672.0,548.8 674.0,548.8 676.0,549.6 678.0,549.3 680.0,549.4 682.0,549.6 684.0,549.4 686.0,549.4 688.0,549.4 690.0,549.6 692.0,549.6 694.0,549.9 696.0,549.8 698.0,550.0 700.0,549.5 702.0,549.9 704.0,549.5 706.0,549.0 708.0,549.0 710.0,549.3 712.0,549.5 714.0,548.9 716.0,549.2 718.0,548.9 720.0,549.2 722.0,548.6 724.0,548.9 726.0,549.3 728.0,548.9 730.0,548.9 732.0,548.8 734.0,549.0 736.0,549.2 738.0,549.6 740.0,549.3 742.0,549.5 744.0,549.4 746.0,549.7 748.0,550.0 750.0,549.8 752.0,549.4 754.0,549.8 756.0,549.9 758.0,549.6 760.0,549.1 762.0,549.6 764.0,549.5 766.0,549.0 768.0,548.8 770.0,548.7 772.0,549.0 774.0,549.2 776.0,549.0 778.0,549.2 780.0,548.6 782.0,548.8 784.0,549.1 786.0,549.1 788.0,549.0 790.0,549.3 792.0,549.1 794.0,549.0 796.0,549.3 798.0,549.1 800.0,549.6 802.0,549.5 804.0,549.6" fill="none" stroke="#6f8b86" stroke-width="2.2" stroke-linejoin="round" stroke-linecap="round" opacity="1"/><circle cx="807.3" cy="548.4" r="7.3" fill="#5b8db7"/><circle cx="239.3" cy="550.5" r="7" fill="#6a93b5"/><circle cx="239.3" cy="550.5" r="2.8" fill="none" stroke="#fff" stroke-width="1.6"/></svg>
<div class="t" style="right:596.9px;top:552.8px;font-size:9px;color:#333;letter-spacing:1px">0%</div>
<div class="t" style="right:596.9px;top:486.1px;font-size:9px;color:#333;letter-spacing:1px">10%</div>
<div class="t" style="right:596.9px;top:419.6px;font-size:9px;color:#333;letter-spacing:1px">20%</div>
<div class="t" style="right:596.9px;top:352.9px;font-size:9px;color:#333;letter-spacing:1px">30%</div>
<div class="t" style="right:596.9px;top:286.4px;font-size:9px;color:#333;letter-spacing:1px">40%</div>
<div class="t" style="right:596.9px;top:219.8px;font-size:9px;color:#333;letter-spacing:1px">50%</div>
<div class="t" style="right:596.9px;top:153.1px;font-size:9px;color:#333;letter-spacing:1px">60%</div>
<div class="t" style="right:596.9px;top:86.6px;font-size:9px;color:#333;letter-spacing:1px">70%</div>
<div class="t" style="left:198.39999999999998px;width:80px;text-align:center;top:567.8px;font-size:9px;color:#333;letter-spacing:0.47px">04/3/11 12AM</div>
<div class="t" style="left:328.40000000000003px;width:80px;text-align:center;top:567.8px;font-size:9px;color:#333;letter-spacing:0.47px">04/10/11 12AM</div>
<div class="t" style="left:458.40000000000003px;width:80px;text-align:center;top:567.8px;font-size:9px;color:#333;letter-spacing:0.47px">04/17/11 12AM</div>
<div class="t" style="left:588.1999999999999px;width:80px;text-align:center;top:567.8px;font-size:9px;color:#333;letter-spacing:0.47px">04/24/11 12AM</div>
<div class="t" style="left:718.9px;width:80px;text-align:center;top:567.8px;font-size:9px;color:#333;letter-spacing:0.47px">05/1/11 12AM</div>
<div class="a" style="left:243px;top:475px;width:176.5px;height:71.5px;background:rgba(255,255,255,0.92);border:1px solid #a3b9c6;box-shadow:1px 1px 1px rgba(0,0,0,0.12)"></div>
<div class="t b" style="left:245.7px;top:478.0px;font-size:9px;color:#222;letter-spacing:0.12px">Net Throughput</div>
<div class="t b" style="left:245.7px;top:488.6px;font-size:9px;color:#222;letter-spacing:0.12px">Best Fit</div>
<div class="t b" style="left:245.7px;top:499.1px;font-size:9px;color:#222;letter-spacing:0.12px">r2: 0.355</div>
<div class="t b" style="left:245.7px;top:509.6px;font-size:9px;color:#222;letter-spacing:0.12px">gradient: 0.010%/day</div>
<div class="t b" style="left:245.7px;top:530.8px;font-size:9px;color:#222;letter-spacing:0.12px">50% Projected on September 15, 2024</div>
<svg class="a" style="left:235px;top:555px" width="14" height="20"><path d="M1,1 L1,13 L3.9,10.4 L6,15 L7.9,14.2 L5.9,9.7 L9.6,9.7 Z" fill="#fff" stroke="#222" stroke-width="1"/></svg></body></html>
